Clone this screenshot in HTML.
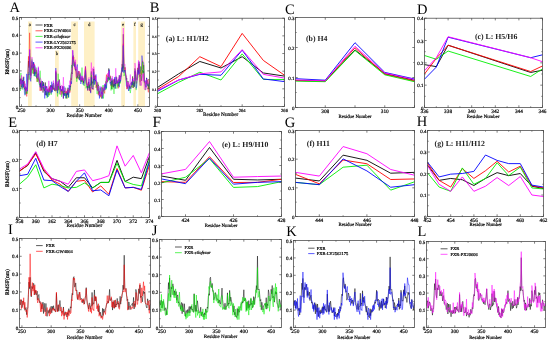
<!DOCTYPE html>
<html><head><meta charset="utf-8"><style>html,body{margin:0;padding:0;background:#fff;width:550px;height:348px;overflow:hidden}svg{display:block}</style></head><body>
<svg width="550" height="348" viewBox="0 0 550 348" font-family="'Liberation Serif', 'Times New Roman', serif" fill="#000" text-rendering="geometricPrecision" stroke-linecap="butt"><style>text{stroke:#000;stroke-width:0.18px;paint-order:stroke}text.n{stroke:none}</style>
<rect width="550" height="348" fill="#fff"/>
<defs>
<clipPath id="cA"><rect x="19.50" y="17.50" width="130.00" height="89.00"/></clipPath>
<clipPath id="cI"><rect x="19.50" y="238.50" width="131.00" height="89.00"/></clipPath>
<clipPath id="cJ"><rect x="159.50" y="239.50" width="122.00" height="88.00"/></clipPath>
<clipPath id="cK"><rect x="293.50" y="240.50" width="121.00" height="87.00"/></clipPath>
<clipPath id="cL"><rect x="426.50" y="241.50" width="119.00" height="86.00"/></clipPath>
</defs>
<rect x="28.0" y="21.5" width="3.80" height="85.00" fill="#fef0c6"/>
<rect x="55.0" y="50.5" width="3.80" height="56.00" fill="#fef0c6"/>
<rect x="71.2" y="21.5" width="6.80" height="85.00" fill="#fef0c6"/>
<rect x="84.0" y="21.5" width="10.60" height="85.00" fill="#fef0c6"/>
<rect x="121.2" y="21.5" width="3.80" height="85.00" fill="#fef0c6"/>
<rect x="133.4" y="21.5" width="2.60" height="85.00" fill="#fef0c6"/>
<rect x="138.2" y="21.5" width="6.80" height="85.00" fill="#fef0c6"/>
<g clip-path="url(#cA)">
<polyline points="17.41,78.90 17.99,81.04 18.57,82.12 19.15,80.85 19.73,83.96 20.31,80.64 20.90,78.79 21.48,86.67 22.06,83.97 22.64,79.85 23.22,81.17 23.81,84.12 24.39,89.29 24.97,87.52 25.55,86.56 26.13,93.71 26.72,87.54 27.30,87.28 27.88,73.57 28.46,61.11 29.04,67.70 29.63,56.30 30.21,72.68 30.79,75.88 31.37,65.45 31.95,67.58 32.53,65.54 33.12,62.30 33.70,65.60 34.28,73.90 34.86,69.37 35.44,73.21 36.03,73.80 36.61,70.15 37.19,78.94 37.77,74.65 38.35,73.52 38.94,81.58 39.52,80.53 40.10,82.87 40.68,83.76 41.26,88.04 41.85,82.80 42.43,81.13 43.01,92.56 43.59,82.21 44.17,88.62 44.76,90.80 45.34,82.44 45.92,90.45 46.50,95.37 47.08,89.51 47.66,89.50 48.25,92.28 48.83,88.38 49.41,91.61 49.99,87.48 50.57,85.26 51.16,91.81 51.74,85.39 52.32,88.01 52.90,84.72 53.48,88.91 54.07,87.95 54.65,90.48 55.23,90.84 55.81,72.32 56.39,86.39 56.98,90.30 57.56,83.79 58.14,90.27 58.72,83.83 59.30,79.48 59.88,84.76 60.47,88.77 61.05,91.52 61.63,90.70 62.21,90.74 62.79,85.97 63.38,94.74 63.96,92.15 64.54,90.78 65.12,93.33 65.70,93.14 66.29,96.03 66.87,91.67 67.45,93.81 68.03,87.68 68.61,90.76 69.20,91.44 69.78,85.75 70.36,87.08 70.94,75.09 71.52,72.32 72.11,73.93 72.69,56.84 73.27,55.63 73.85,65.80 74.43,65.86 75.01,61.93 75.60,69.65 76.18,69.18 76.76,78.55 77.34,76.77 77.92,75.48 78.51,71.21 79.09,73.25 79.67,77.45 80.25,78.40 80.83,77.39 81.42,78.29 82.00,81.86 82.58,78.63 83.16,81.37 83.74,82.95 84.33,77.84 84.91,74.64 85.49,66.63 86.07,78.20 86.65,82.65 87.24,84.25 87.82,87.99 88.40,82.11 88.98,82.11 89.56,88.34 90.14,84.96 90.73,84.96 91.31,71.43 91.89,84.43 92.47,81.76 93.05,82.65 93.64,68.94 94.22,80.09 94.80,75.71 95.38,78.03 95.96,81.96 96.55,84.10 97.13,87.03 97.71,90.84 98.29,84.64 98.87,93.62 99.46,91.08 100.04,95.18 100.62,94.85 101.20,96.46 101.78,87.31 102.36,94.44 102.95,87.94 103.53,91.16 104.11,90.82 104.69,86.96 105.27,86.39 105.86,82.57 106.44,82.73 107.02,80.20 107.60,81.78 108.18,76.80 108.77,68.36 109.35,79.63 109.93,78.52 110.51,77.34 111.09,79.56 111.68,89.08 112.26,80.82 112.84,83.21 113.42,87.23 114.00,79.33 114.59,86.21 115.17,83.11 115.75,83.95 116.33,77.40 116.91,83.24 117.49,81.87 118.08,86.52 118.66,84.34 119.24,75.29 119.82,83.15 120.40,76.45 120.99,76.74 121.57,71.48 122.15,64.14 122.73,68.59 123.31,34.23 123.90,67.52 124.48,68.23 125.06,67.52 125.64,73.20 126.22,79.57 126.81,78.22 127.39,88.55 127.97,80.98 128.55,84.70 129.13,88.66 129.71,84.50 130.30,84.11 130.88,83.69 131.46,82.30 132.04,85.40 132.62,76.38 133.21,87.95 133.79,82.65 134.37,84.43 134.95,68.41 135.53,71.61 136.12,79.62 136.70,79.09 137.28,79.43 137.86,67.91 138.44,72.50 139.03,63.96 139.61,76.60 140.19,74.99 140.77,76.06 141.35,80.87 141.94,74.99 142.52,70.19 143.10,72.68 143.68,70.90 144.26,81.40 144.84,83.36 145.43,86.07 146.01,87.01 146.59,77.81 147.17,80.67 147.75,81.16 148.34,88.69 148.92,84.00 149.50,83.71 150.08,83.79 150.66,81.56 151.25,86.00 151.83,81.22" fill="none" stroke="#000000" stroke-width="0.42" stroke-linejoin="round"/>
<polyline points="17.41,80.96 17.99,73.05 18.57,81.78 19.15,83.75 19.73,80.70 20.31,78.34 20.90,87.70 21.48,85.57 22.06,80.02 22.64,83.75 23.22,76.72 23.81,87.83 24.39,81.24 24.97,87.57 25.55,90.74 26.13,88.82 26.72,96.48 27.30,89.23 27.88,76.24 28.46,56.30 29.04,66.27 29.63,32.81 30.21,60.04 30.79,74.99 31.37,68.84 31.95,61.63 32.53,70.14 33.12,64.52 33.70,73.95 34.28,63.72 34.86,72.32 35.44,69.31 36.03,69.63 36.61,78.51 37.19,81.96 37.77,77.32 38.35,80.10 38.94,79.91 39.52,81.49 40.10,90.95 40.68,81.47 41.26,90.71 41.85,83.16 42.43,87.30 43.01,88.25 43.59,88.14 44.17,90.77 44.76,91.24 45.34,95.05 45.92,89.26 46.50,86.50 47.08,89.31 47.66,91.27 48.25,92.01 48.83,95.13 49.41,86.62 49.99,93.15 50.57,90.26 51.16,90.02 51.74,87.67 52.32,89.19 52.90,86.82 53.48,89.73 54.07,88.89 54.65,90.48 55.23,90.84 55.81,71.08 56.39,86.74 56.98,90.84 57.56,84.86 58.14,83.89 58.72,83.50 59.30,88.78 59.88,90.12 60.47,86.03 61.05,95.18 61.63,90.29 62.21,93.59 62.79,87.13 63.38,98.49 63.96,92.61 64.54,94.37 65.12,91.18 65.70,93.20 66.29,90.96 66.87,98.49 67.45,89.49 68.03,95.15 68.61,94.19 69.20,89.36 69.78,92.75 70.36,91.60 70.94,78.45 71.52,79.80 72.11,67.34 72.69,56.84 73.27,58.87 73.85,57.27 74.43,66.19 75.01,69.57 75.60,68.96 76.18,74.08 76.76,77.84 77.34,73.39 77.92,78.70 78.51,79.21 79.09,71.08 79.67,78.95 80.25,78.21 80.83,81.39 81.42,78.57 82.00,80.19 82.58,77.54 83.16,83.40 83.74,80.53 84.33,78.20 84.91,74.28 85.49,67.52 86.07,77.31 86.65,83.54 87.24,86.03 87.82,90.48 88.40,84.25 88.98,83.72 89.56,90.84 90.14,87.10 90.73,92.26 91.31,76.42 91.89,88.34 92.47,87.99 93.05,89.77 93.64,74.28 94.22,75.81 94.80,79.99 95.38,75.67 95.96,87.77 96.55,84.82 97.13,90.25 97.71,82.73 98.29,95.26 98.87,91.81 99.46,92.52 100.04,97.20 100.62,97.03 101.20,95.01 101.78,98.49 102.36,95.20 102.95,91.78 103.53,90.30 104.11,90.89 104.69,93.46 105.27,85.55 105.86,81.74 106.44,74.60 107.02,82.22 107.60,82.02 108.18,74.55 108.77,78.50 109.35,79.52 109.93,78.50 110.51,75.75 111.09,86.09 111.68,80.98 112.26,86.63 112.84,79.51 113.42,87.29 114.00,85.03 114.59,78.83 115.17,85.85 115.75,85.57 116.33,80.80 116.91,81.31 117.49,80.38 118.08,87.91 118.66,88.20 119.24,80.89 119.82,80.80 120.40,79.13 120.99,73.83 121.57,72.45 122.15,70.01 122.73,70.72 123.31,43.84 123.90,70.90 124.48,70.72 125.06,67.52 125.64,74.96 126.22,76.03 126.81,89.13 127.39,85.64 127.97,85.61 128.55,86.13 129.13,85.46 129.71,86.23 130.30,88.42 130.88,85.82 131.46,85.94 132.04,87.47 132.62,81.51 133.21,80.85 133.79,80.33 134.37,86.21 134.95,71.43 135.53,73.75 136.12,83.54 136.70,83.18 137.28,72.43 137.86,68.65 138.44,66.77 139.03,62.36 139.61,76.60 140.19,82.11 140.77,66.81 141.35,74.99 141.94,68.59 142.52,60.75 143.10,69.65 143.68,64.85 144.26,81.05 144.84,82.83 145.43,83.03 146.01,82.93 146.59,83.90 147.17,79.80 147.75,86.14 148.34,92.31 148.92,79.15 149.50,82.11 150.08,84.40 150.66,84.78 151.25,81.74 151.83,87.58" fill="none" stroke="#ff0000" stroke-width="0.42" stroke-linejoin="round"/>
<polyline points="17.41,80.64 17.99,82.82 18.57,85.65 19.15,79.35 19.73,86.73 20.31,90.97 20.90,72.91 21.48,87.21 22.06,80.37 22.64,89.54 23.22,78.03 23.81,83.28 24.39,85.92 24.97,93.02 25.55,94.45 26.13,89.74 26.72,89.71 27.30,93.68 27.88,82.11 28.46,71.97 29.04,79.80 29.63,53.46 30.21,79.27 30.79,79.27 31.37,68.71 31.95,58.64 32.53,73.48 33.12,64.98 33.70,64.93 34.28,76.25 34.86,71.30 35.44,76.65 36.03,67.40 36.61,71.82 37.19,81.69 37.77,76.08 38.35,81.40 38.94,83.01 39.52,85.30 40.10,70.69 40.68,80.77 41.26,88.14 41.85,89.66 42.43,84.17 43.01,90.14 43.59,86.18 44.17,90.16 44.76,90.39 45.34,90.05 45.92,94.75 46.50,93.27 47.08,98.16 47.66,92.28 48.25,96.76 48.83,91.34 49.41,95.32 49.99,90.12 50.57,89.60 51.16,94.86 51.74,89.58 52.32,90.21 52.90,84.33 53.48,83.13 54.07,89.69 54.65,90.84 55.23,91.19 55.81,72.68 56.39,87.10 56.98,91.19 57.56,96.49 58.14,73.69 58.72,86.11 59.30,94.33 59.88,88.92 60.47,92.16 61.05,91.12 61.63,96.80 62.21,92.66 62.79,90.72 63.38,93.47 63.96,90.63 64.54,95.79 65.12,87.62 65.70,98.49 66.29,93.30 66.87,98.49 67.45,95.80 68.03,88.22 68.61,97.95 69.20,89.73 69.78,90.86 70.36,90.35 70.94,80.50 71.52,65.03 72.11,68.05 72.69,61.47 73.27,59.63 73.85,64.99 74.43,66.09 75.01,63.83 75.60,70.16 76.18,69.79 76.76,81.76 77.34,75.71 77.92,71.43 78.51,75.29 79.09,78.95 79.67,79.95 80.25,73.25 80.83,81.77 81.42,81.80 82.00,67.57 82.58,84.16 83.16,83.77 83.74,85.26 84.33,86.03 84.91,81.76 85.49,74.10 86.07,88.34 86.65,86.03 87.24,86.92 87.82,88.34 88.40,87.99 88.98,85.32 89.56,88.34 90.14,84.96 90.73,84.96 91.31,73.21 91.89,84.43 92.47,86.21 93.05,87.10 93.64,71.08 94.22,78.28 94.80,84.69 95.38,82.41 95.96,81.28 96.55,84.30 97.13,94.08 97.71,82.13 98.29,90.61 98.87,91.98 99.46,95.92 100.04,87.88 100.62,94.35 101.20,95.07 101.78,98.49 102.36,89.75 102.95,85.20 103.53,98.49 104.11,85.17 104.69,89.30 105.27,88.14 105.86,81.08 106.44,89.30 107.02,79.78 107.60,75.84 108.18,81.03 108.77,77.62 109.35,76.54 109.93,79.92 110.51,76.51 111.09,90.48 111.68,80.92 112.26,89.42 112.84,79.88 113.42,86.17 114.00,93.98 114.59,83.68 115.17,88.81 115.75,83.60 116.33,76.53 116.91,88.75 117.49,86.04 118.08,79.53 118.66,85.97 119.24,78.49 119.82,83.09 120.40,83.35 120.99,77.35 121.57,68.41 122.15,71.26 122.73,65.38 123.31,45.98 123.90,76.06 124.48,75.17 125.06,70.01 125.64,78.48 126.22,85.47 126.81,84.51 127.39,84.35 127.97,86.89 128.55,89.79 129.13,90.94 129.71,87.45 130.30,93.11 130.88,88.98 131.46,81.78 132.04,87.51 132.62,81.88 133.21,80.98 133.79,85.32 134.37,86.74 134.95,75.88 135.53,74.64 136.12,90.12 136.70,84.96 137.28,77.78 137.86,78.05 138.44,69.03 139.03,70.37 139.61,82.11 140.19,85.67 140.77,66.27 141.35,79.80 141.94,74.99 142.52,62.00 143.10,72.68 143.68,65.56 144.26,82.83 144.84,83.72 145.43,90.16 146.01,84.49 146.59,79.34 147.17,85.92 147.75,85.23 148.34,83.22 148.92,88.19 149.50,84.10 150.08,71.39 150.66,82.54 151.25,93.82 151.83,84.99" fill="none" stroke="#00ee00" stroke-width="0.42" stroke-linejoin="round"/>
<polyline points="17.41,83.70 17.99,75.96 18.57,76.88 19.15,86.76 19.73,82.10 20.31,79.47 20.90,84.07 21.48,78.66 22.06,88.11 22.64,80.65 23.22,86.99 23.81,76.80 24.39,92.28 24.97,95.28 25.55,86.96 26.13,89.84 26.72,73.89 27.30,91.19 27.88,79.80 28.46,74.10 29.04,74.99 29.63,49.72 30.21,78.73 30.79,81.40 31.37,67.16 31.95,60.47 32.53,68.25 33.12,66.59 33.70,61.98 34.28,75.86 34.86,65.47 35.44,70.50 36.03,75.15 36.61,77.54 37.19,75.59 37.77,74.80 38.35,67.63 38.94,79.65 39.52,79.27 40.10,87.29 40.68,83.23 41.26,90.21 41.85,81.14 42.43,86.61 43.01,88.39 43.59,83.73 44.17,88.19 44.76,98.49 45.34,86.30 45.92,95.38 46.50,86.38 47.08,86.18 47.66,97.00 48.25,90.88 48.83,92.45 49.41,89.97 49.99,89.01 50.57,86.57 51.16,93.44 51.74,81.71 52.32,92.18 52.90,84.52 53.48,82.90 54.07,88.12 54.65,89.41 55.23,90.30 55.81,68.05 56.39,85.67 56.98,89.59 57.56,93.19 58.14,81.08 58.72,84.82 59.30,86.95 59.88,88.94 60.47,86.08 61.05,91.07 61.63,89.00 62.21,90.83 62.79,87.16 63.38,98.49 63.96,86.24 64.54,95.69 65.12,93.87 65.70,96.15 66.29,98.15 66.87,92.65 67.45,94.93 68.03,90.27 68.61,97.17 69.20,85.03 69.78,89.83 70.36,87.15 70.94,81.43 71.52,83.89 72.11,74.28 72.69,50.43 73.27,58.57 73.85,61.65 74.43,66.93 75.01,63.55 75.60,70.57 76.18,70.09 76.76,66.81 77.34,64.49 77.92,77.42 78.51,78.06 79.09,77.42 79.67,80.31 80.25,74.42 80.83,83.99 81.42,78.57 82.00,76.50 82.58,79.57 83.16,78.35 83.74,84.58 84.33,80.87 84.91,79.98 85.49,70.19 86.07,83.54 86.65,83.89 87.24,87.45 87.82,90.48 88.40,84.25 88.98,79.09 89.56,90.12 90.14,89.59 90.73,93.15 91.31,77.31 91.89,88.34 92.47,87.99 93.05,89.23 93.64,71.97 94.22,84.55 94.80,78.72 95.38,81.10 95.96,74.44 96.55,83.01 97.13,85.36 97.71,89.73 98.29,89.13 98.87,89.84 99.46,98.49 100.04,86.50 100.62,90.05 101.20,94.47 101.78,92.01 102.36,98.49 102.95,90.40 103.53,88.87 104.11,90.26 104.69,84.08 105.27,89.78 105.86,83.55 106.44,88.07 107.02,78.57 107.60,78.42 108.18,79.39 108.77,76.57 109.35,69.55 109.93,83.36 110.51,82.22 111.09,85.27 111.68,78.93 112.26,78.34 112.84,84.33 113.42,86.28 114.00,85.16 114.59,77.19 115.17,88.46 115.75,76.83 116.33,78.38 116.91,83.59 117.49,81.20 118.08,82.86 118.66,79.38 119.24,87.17 119.82,75.68 120.40,81.65 120.99,78.94 121.57,69.72 122.15,67.16 122.73,72.15 123.31,45.27 123.90,72.68 124.48,70.72 125.06,70.01 125.64,75.25 126.22,77.99 126.81,86.54 127.39,85.56 127.97,85.66 128.55,90.87 129.13,89.33 129.71,85.57 130.30,87.72 130.88,88.81 131.46,82.23 132.04,84.98 132.62,79.02 133.21,84.41 133.79,85.32 134.37,86.74 134.95,70.72 135.53,78.20 136.12,88.34 136.70,86.74 137.28,75.51 137.86,69.81 138.44,74.59 139.03,61.47 139.61,73.75 140.19,71.43 140.77,70.90 141.35,69.12 141.94,55.59 142.52,60.04 143.10,62.71 143.68,62.71 144.26,80.51 144.84,82.11 145.43,80.62 146.01,87.48 146.59,78.02 147.17,82.87 147.75,85.49 148.34,86.06 148.92,86.06 149.50,80.85 150.08,83.09 150.66,84.38 151.25,85.98 151.83,94.57" fill="none" stroke="#0000ff" stroke-width="0.42" stroke-linejoin="round"/>
<polyline points="17.41,77.40 17.99,73.27 18.57,83.52 19.15,75.35 19.73,78.11 20.31,78.63 20.90,86.41 21.48,75.25 22.06,84.27 22.64,82.21 23.22,81.04 23.81,80.93 24.39,86.10 24.97,88.41 25.55,83.68 26.13,91.74 26.72,89.27 27.30,90.12 27.88,79.80 28.46,73.57 29.04,71.61 29.63,49.18 30.21,74.10 30.79,77.84 31.37,69.96 31.95,56.97 32.53,67.59 33.12,66.43 33.70,65.11 34.28,63.85 34.86,72.07 35.44,71.56 36.03,68.18 36.61,71.76 37.19,72.52 37.77,78.49 38.35,66.64 38.94,74.53 39.52,83.49 40.10,77.82 40.68,79.39 41.26,79.76 41.85,89.42 42.43,90.54 43.01,85.99 43.59,87.12 44.17,85.96 44.76,85.76 45.34,89.76 45.92,91.06 46.50,88.39 47.08,90.13 47.66,89.09 48.25,91.91 48.83,80.83 49.41,90.77 49.99,92.34 50.57,89.69 51.16,86.89 51.74,90.41 52.32,85.41 52.90,86.08 53.48,80.57 54.07,89.41 54.65,90.12 55.23,90.66 55.81,70.19 56.39,86.03 56.98,89.95 57.56,82.22 58.14,85.92 58.72,80.19 59.30,86.69 59.88,88.17 60.47,94.33 61.05,89.87 61.63,85.14 62.21,86.37 62.79,91.31 63.38,77.15 63.96,93.20 64.54,91.94 65.12,93.09 65.70,87.96 66.29,92.33 66.87,93.44 67.45,92.27 68.03,88.79 68.61,90.04 69.20,92.55 69.78,80.59 70.36,85.81 70.94,78.16 71.52,77.13 72.11,66.81 72.69,50.07 73.27,55.81 73.85,63.30 74.43,61.59 75.01,68.86 75.60,59.68 76.18,77.42 76.76,66.81 77.34,70.01 77.92,75.67 78.51,71.05 79.09,72.49 79.67,73.85 80.25,72.59 80.83,80.21 81.42,75.80 82.00,80.08 82.58,75.83 83.16,81.03 83.74,80.18 84.33,76.77 84.91,73.75 85.49,66.09 86.07,76.42 86.65,82.65 87.24,84.25 87.82,86.03 88.40,78.20 88.98,77.31 89.56,83.89 90.14,82.65 90.73,80.87 91.31,62.53 91.89,74.99 92.47,68.41 93.05,79.09 93.64,66.63 94.22,69.21 94.80,78.01 95.38,80.06 95.96,76.22 96.55,84.67 97.13,81.61 97.71,91.17 98.29,87.33 98.87,85.95 99.46,95.34 100.04,91.44 100.62,92.09 101.20,96.80 101.78,86.59 102.36,91.91 102.95,95.23 103.53,87.07 104.11,90.09 104.69,86.96 105.27,83.12 105.86,84.72 106.44,76.80 107.02,82.36 107.60,73.20 108.18,76.82 108.77,70.92 109.35,77.26 109.93,76.14 110.51,81.71 111.09,79.15 111.68,79.83 112.26,76.15 112.84,79.67 113.42,82.88 114.00,84.04 114.59,82.79 115.17,83.08 115.75,68.24 116.33,78.05 116.91,83.91 117.49,82.22 118.08,77.40 118.66,82.21 119.24,81.22 119.82,75.00 120.40,79.92 120.99,75.67 121.57,70.31 122.15,61.82 122.73,57.19 123.31,28.00 123.90,65.38 124.48,64.67 125.06,64.14 125.64,73.97 126.22,78.77 126.81,86.68 127.39,82.23 127.97,89.19 128.55,82.50 129.13,85.34 129.71,85.99 130.30,74.49 130.88,85.44 131.46,81.98 132.04,82.26 132.62,81.47 133.21,78.04 133.79,79.09 134.37,81.40 134.95,63.07 135.53,67.52 136.12,77.31 136.70,80.87 137.28,79.39 137.86,73.64 138.44,60.31 139.03,64.31 139.61,79.80 140.19,85.67 140.77,73.75 141.35,85.67 141.94,81.40 142.52,74.28 143.10,80.87 143.68,73.39 144.26,88.70 144.84,89.95 145.43,81.04 146.01,89.65 146.59,78.74 147.17,81.01 147.75,84.18 148.34,84.23 148.92,82.10 149.50,81.33 150.08,85.62 150.66,75.66 151.25,75.71 151.83,88.41" fill="none" stroke="#ff00ff" stroke-width="0.42" stroke-linejoin="round"/>
</g>
<text x="29.90" y="25.7" font-size="4.8" text-anchor="middle" fill="#333">a</text>
<text x="56.90" y="55.0" font-size="4.8" text-anchor="middle" fill="#333">b</text>
<text x="74.60" y="25.7" font-size="4.8" text-anchor="middle" fill="#333">c</text>
<text x="89.30" y="25.7" font-size="4.8" text-anchor="middle" fill="#333">d</text>
<text x="123.10" y="25.7" font-size="4.8" text-anchor="middle" fill="#333">e</text>
<text x="134.70" y="25.7" font-size="4.8" text-anchor="middle" fill="#333">f</text>
<text x="141.60" y="25.7" font-size="4.8" text-anchor="middle" fill="#333">g</text>
<line x1="35.5" y1="25.00" x2="42.6" y2="25.00" stroke="#000000" stroke-width="0.65"/>
<text x="44.1" y="26.62" font-size="4.5">FXR</text>
<line x1="35.5" y1="30.80" x2="42.6" y2="30.80" stroke="#ff0000" stroke-width="0.65"/>
<text x="44.1" y="32.42" font-size="4.5">FXR-GW4064</text>
<line x1="35.5" y1="36.40" x2="42.6" y2="36.40" stroke="#00ee00" stroke-width="0.65"/>
<text x="44.1" y="38.02" font-size="4.5">FXR-<tspan font-style="italic">cilofexor</tspan></text>
<line x1="35.5" y1="42.10" x2="42.6" y2="42.10" stroke="#0000ff" stroke-width="0.65"/>
<text x="44.1" y="43.72" font-size="4.5">FXR-LY2562175</text>
<line x1="35.5" y1="47.80" x2="42.6" y2="47.80" stroke="#ff00ff" stroke-width="0.65"/>
<text x="44.1" y="49.42" font-size="4.5">FXR-PX20606</text>
<rect x="19.50" y="17.50" width="130.00" height="89.00" fill="none" stroke="#444" stroke-width="0.75"/>
<path d="M21.48 106.50v-2.2M21.48 17.50v2.2M50.57 106.50v-2.2M50.57 17.50v2.2M79.67 106.50v-2.2M79.67 17.50v2.2M108.77 106.50v-2.2M108.77 17.50v2.2M137.86 106.50v-2.2M137.86 17.50v2.2M36.03 106.50v-1.2M36.03 17.50v1.2M65.12 106.50v-1.2M65.12 17.50v1.2M94.22 106.50v-1.2M94.22 17.50v1.2M123.31 106.50v-1.2M123.31 17.50v1.2M19.50 106.50h2.2M149.50 106.50h-2.2M19.50 88.70h2.2M149.50 88.70h-2.2M19.50 70.90h2.2M149.50 70.90h-2.2M19.50 53.10h2.2M149.50 53.10h-2.2M19.50 35.30h2.2M149.50 35.30h-2.2M19.50 17.50h2.2M149.50 17.50h-2.2M19.50 97.60h1.2M149.50 97.60h-1.2M19.50 79.80h1.2M149.50 79.80h-1.2M19.50 62.00h1.2M149.50 62.00h-1.2M19.50 44.20h1.2M149.50 44.20h-1.2M19.50 26.40h1.2M149.50 26.40h-1.2" stroke="#444" stroke-width="0.68" fill="none"/>
<text x="21.48" y="111.80" font-size="5.3" text-anchor="middle">250</text>
<text x="50.57" y="111.80" font-size="5.3" text-anchor="middle">300</text>
<text x="79.67" y="111.80" font-size="5.3" text-anchor="middle">350</text>
<text x="108.77" y="111.80" font-size="5.3" text-anchor="middle">400</text>
<text x="137.86" y="111.80" font-size="5.3" text-anchor="middle">450</text>
<text x="18.30" y="108.50" font-size="5.0" text-anchor="end">0</text>
<text x="18.30" y="90.70" font-size="5.0" text-anchor="end">0.1</text>
<text x="18.30" y="72.90" font-size="5.0" text-anchor="end">0.2</text>
<text x="18.30" y="55.10" font-size="5.0" text-anchor="end">0.3</text>
<text x="18.30" y="37.30" font-size="5.0" text-anchor="end">0.4</text>
<text x="18.30" y="19.50" font-size="5.0" text-anchor="end">0.5</text>
<text transform="translate(9.2 61.7) rotate(-90)" font-size="5.6" text-anchor="middle">RMSF(nm)</text>
<polyline points="157.50,87.43 178.67,73.83 199.83,61.47 221.00,68.00 242.17,56.70 263.33,72.95 284.50,76.12" fill="none" stroke="#000000" stroke-width="0.9" stroke-linejoin="round"/>
<polyline points="157.50,89.37 178.67,76.48 199.83,56.70 221.00,66.59 242.17,33.39 263.33,60.41 284.50,75.24" fill="none" stroke="#ff0000" stroke-width="0.9" stroke-linejoin="round"/>
<polyline points="157.50,93.78 178.67,82.31 199.83,72.24 221.00,80.01 242.17,53.87 263.33,79.48 284.50,79.48" fill="none" stroke="#00ee00" stroke-width="0.9" stroke-linejoin="round"/>
<polyline points="157.50,91.31 178.67,80.01 199.83,74.36 221.00,75.24 242.17,50.16 263.33,78.95 284.50,81.60" fill="none" stroke="#0000ff" stroke-width="0.9" stroke-linejoin="round"/>
<polyline points="157.50,90.25 178.67,80.01 199.83,73.83 221.00,71.89 242.17,49.63 263.33,74.36 284.50,78.07" fill="none" stroke="#ff00ff" stroke-width="0.9" stroke-linejoin="round"/>
<rect x="157.50" y="18.20" width="127.00" height="88.30" fill="none" stroke="#444" stroke-width="0.75"/>
<path d="M157.50 106.50v-2.2M157.50 18.20v2.2M199.83 106.50v-2.2M199.83 18.20v2.2M242.17 106.50v-2.2M242.17 18.20v2.2M284.50 106.50v-2.2M284.50 18.20v2.2M178.67 106.50v-1.2M178.67 18.20v1.2M221.00 106.50v-1.2M221.00 18.20v1.2M263.33 106.50v-1.2M263.33 18.20v1.2M157.50 106.50h2.2M284.50 106.50h-2.2M157.50 88.84h2.2M284.50 88.84h-2.2M157.50 71.18h2.2M284.50 71.18h-2.2M157.50 53.52h2.2M284.50 53.52h-2.2M157.50 35.86h2.2M284.50 35.86h-2.2M157.50 18.20h2.2M284.50 18.20h-2.2M157.50 97.67h1.2M284.50 97.67h-1.2M157.50 80.01h1.2M284.50 80.01h-1.2M157.50 62.35h1.2M284.50 62.35h-1.2M157.50 44.69h1.2M284.50 44.69h-1.2M157.50 27.03h1.2M284.50 27.03h-1.2" stroke="#444" stroke-width="0.68" fill="none"/>
<text x="157.50" y="111.50" font-size="4.6" text-anchor="middle">260</text>
<text x="199.83" y="111.50" font-size="4.6" text-anchor="middle">262</text>
<text x="242.17" y="111.50" font-size="4.6" text-anchor="middle">264</text>
<text x="284.50" y="111.50" font-size="4.6" text-anchor="middle">266</text>
<text x="156.60" y="108.16" font-size="3.6" text-anchor="end">0</text>
<text x="156.60" y="90.50" font-size="3.6" text-anchor="end">0.1</text>
<text x="156.60" y="72.84" font-size="3.6" text-anchor="end">0.2</text>
<text x="156.60" y="55.18" font-size="3.6" text-anchor="end">0.3</text>
<text x="156.60" y="37.52" font-size="3.6" text-anchor="end">0.4</text>
<text x="156.60" y="19.86" font-size="3.6" text-anchor="end">0.5</text>
<text class="n" x="165.8" y="41.30" font-size="7.8" font-weight="bold" fill="#222">(a) L: H1/H2</text>
<polyline points="295.50,80.50 325.25,81.10 355.00,49.90 384.75,73.60 414.50,80.20" fill="none" stroke="#000000" stroke-width="0.9" stroke-linejoin="round"/>
<polyline points="295.50,80.50 325.25,81.10 355.00,47.80 384.75,74.20 414.50,81.10" fill="none" stroke="#ff0000" stroke-width="0.9" stroke-linejoin="round"/>
<polyline points="295.50,81.10 325.25,81.70 355.00,50.50 384.75,74.80 414.50,81.70" fill="none" stroke="#00ee00" stroke-width="0.9" stroke-linejoin="round"/>
<polyline points="295.50,78.70 325.25,80.20 355.00,42.70 384.75,72.40 414.50,79.00" fill="none" stroke="#0000ff" stroke-width="0.9" stroke-linejoin="round"/>
<polyline points="295.50,79.90 325.25,80.80 355.00,46.30 384.75,73.00 414.50,79.60" fill="none" stroke="#ff00ff" stroke-width="0.9" stroke-linejoin="round"/>
<rect x="295.50" y="17.50" width="119.00" height="90.00" fill="none" stroke="#444" stroke-width="0.75"/>
<path d="M295.50 107.50v-2.2M295.50 17.50v2.2M325.25 107.50v-2.2M325.25 17.50v2.2M355.00 107.50v-2.2M355.00 17.50v2.2M384.75 107.50v-2.2M384.75 17.50v2.2M414.50 107.50v-2.2M414.50 17.50v2.2M295.50 107.50h2.2M414.50 107.50h-2.2M295.50 77.50h2.2M414.50 77.50h-2.2M295.50 47.50h2.2M414.50 47.50h-2.2M295.50 17.50h2.2M414.50 17.50h-2.2M295.50 92.50h1.2M414.50 92.50h-1.2M295.50 62.50h1.2M414.50 62.50h-1.2M295.50 32.50h1.2M414.50 32.50h-1.2" stroke="#444" stroke-width="0.68" fill="none"/>
<text x="325.25" y="112.50" font-size="5.3" text-anchor="middle">308</text>
<text x="384.75" y="112.50" font-size="5.3" text-anchor="middle">310</text>
<text x="294.40" y="109.75" font-size="4.9" text-anchor="end">0</text>
<text x="294.40" y="79.75" font-size="4.9" text-anchor="end">0.1</text>
<text x="294.40" y="49.75" font-size="4.9" text-anchor="end">0.2</text>
<text x="294.40" y="19.75" font-size="4.9" text-anchor="end">0.3</text>
<text class="n" x="306.0" y="40.80" font-size="7.8" font-weight="bold" fill="#222">(b) H4</text>
<polyline points="424.50,64.64 436.30,66.65 448.10,45.21 530.70,72.45 542.50,70.22" fill="none" stroke="#000000" stroke-width="0.9" stroke-linejoin="round"/>
<polyline points="424.50,74.01 436.30,58.39 448.10,45.21 530.70,71.56 542.50,65.98" fill="none" stroke="#ff0000" stroke-width="0.9" stroke-linejoin="round"/>
<polyline points="424.50,55.48 436.30,59.28 448.10,51.02 530.70,76.47 542.50,68.88" fill="none" stroke="#00ee00" stroke-width="0.9" stroke-linejoin="round"/>
<polyline points="424.50,79.15 436.30,67.09 448.10,37.18 530.70,57.72 542.50,54.81" fill="none" stroke="#0000ff" stroke-width="0.9" stroke-linejoin="round"/>
<polyline points="424.50,70.66 436.30,57.72 448.10,36.73 530.70,57.72 542.50,61.73" fill="none" stroke="#ff00ff" stroke-width="0.9" stroke-linejoin="round"/>
<rect x="424.50" y="18.20" width="118.00" height="89.30" fill="none" stroke="#444" stroke-width="0.75"/>
<path d="M424.50 107.50v-2.2M424.50 18.20v2.2M448.10 107.50v-2.2M448.10 18.20v2.2M471.70 107.50v-2.2M471.70 18.20v2.2M495.30 107.50v-2.2M495.30 18.20v2.2M518.90 107.50v-2.2M518.90 18.20v2.2M542.50 107.50v-2.2M542.50 18.20v2.2M436.30 107.50v-1.2M436.30 18.20v1.2M459.90 107.50v-1.2M459.90 18.20v1.2M483.50 107.50v-1.2M483.50 18.20v1.2M507.10 107.50v-1.2M507.10 18.20v1.2M530.70 107.50v-1.2M530.70 18.20v1.2M424.50 107.50h2.2M542.50 107.50h-2.2M424.50 85.17h2.2M542.50 85.17h-2.2M424.50 62.85h2.2M542.50 62.85h-2.2M424.50 40.53h2.2M542.50 40.53h-2.2M424.50 18.20h2.2M542.50 18.20h-2.2M424.50 96.34h1.2M542.50 96.34h-1.2M424.50 74.01h1.2M542.50 74.01h-1.2M424.50 51.69h1.2M542.50 51.69h-1.2M424.50 29.36h1.2M542.50 29.36h-1.2" stroke="#444" stroke-width="0.68" fill="none"/>
<text x="424.50" y="112.50" font-size="5.3" text-anchor="middle">336</text>
<text x="448.10" y="112.50" font-size="5.3" text-anchor="middle">338</text>
<text x="471.70" y="112.50" font-size="5.3" text-anchor="middle">340</text>
<text x="495.30" y="112.50" font-size="5.3" text-anchor="middle">342</text>
<text x="518.90" y="112.50" font-size="5.3" text-anchor="middle">344</text>
<text x="542.50" y="112.50" font-size="5.3" text-anchor="middle">346</text>
<text x="423.40" y="109.75" font-size="4.9" text-anchor="end">0</text>
<text x="423.40" y="87.43" font-size="4.9" text-anchor="end">0.1</text>
<text x="423.40" y="65.10" font-size="4.9" text-anchor="end">0.2</text>
<text x="423.40" y="42.78" font-size="4.9" text-anchor="end">0.3</text>
<text x="423.40" y="20.45" font-size="4.9" text-anchor="end">0.4</text>
<text class="n" x="474.9" y="38.70" font-size="7.8" font-weight="bold" fill="#222">(c) L: H5/H6</text>
<polyline points="19.50,170.81 27.62,165.59 35.75,152.54 43.88,171.39 52.00,178.64 60.12,181.25 68.25,187.34 76.38,177.77 84.50,177.77 92.62,187.92 100.75,182.41 108.88,182.41 117.00,160.37 125.12,181.54 133.25,177.19 141.38,178.64 149.50,156.31" fill="none" stroke="#000000" stroke-width="0.9" stroke-linejoin="round"/>
<polyline points="19.50,171.39 27.62,165.01 35.75,153.99 43.88,169.94 52.00,180.09 60.12,184.15 68.25,191.40 76.38,181.25 84.50,180.38 92.62,191.98 100.75,185.89 108.88,194.30 117.00,168.49 125.12,187.92 133.25,187.34 141.38,190.24 149.50,165.01" fill="none" stroke="#ff0000" stroke-width="0.9" stroke-linejoin="round"/>
<polyline points="19.50,184.15 27.62,177.19 35.75,164.72 43.88,187.92 52.00,184.15 60.12,185.60 68.25,187.92 76.38,187.34 84.50,182.99 92.62,187.92 100.75,182.41 108.88,182.41 117.00,163.27 125.12,181.54 133.25,184.44 141.38,185.89 149.50,159.79" fill="none" stroke="#00ee00" stroke-width="0.9" stroke-linejoin="round"/>
<polyline points="19.50,175.74 27.62,174.29 35.75,158.34 43.88,180.09 52.00,180.67 60.12,186.47 68.25,191.40 76.38,181.25 84.50,172.84 92.62,190.82 100.75,189.95 108.88,195.75 117.00,169.94 125.12,187.92 133.25,187.34 141.38,189.37 149.50,161.24" fill="none" stroke="#0000ff" stroke-width="0.9" stroke-linejoin="round"/>
<polyline points="19.50,169.07 27.62,164.14 35.75,151.67 43.88,168.49 52.00,178.64 60.12,181.25 68.25,184.15 76.38,171.39 84.50,169.94 92.62,180.67 100.75,178.64 108.88,175.74 117.00,145.87 125.12,166.17 133.25,155.44 141.38,172.84 149.50,152.54" fill="none" stroke="#ff00ff" stroke-width="0.9" stroke-linejoin="round"/>
<rect x="19.50" y="130.50" width="130.00" height="87.00" fill="none" stroke="#444" stroke-width="0.75"/>
<path d="M19.50 217.50v-2.2M19.50 130.50v2.2M35.75 217.50v-2.2M35.75 130.50v2.2M52.00 217.50v-2.2M52.00 130.50v2.2M68.25 217.50v-2.2M68.25 130.50v2.2M84.50 217.50v-2.2M84.50 130.50v2.2M100.75 217.50v-2.2M100.75 130.50v2.2M117.00 217.50v-2.2M117.00 130.50v2.2M133.25 217.50v-2.2M133.25 130.50v2.2M149.50 217.50v-2.2M149.50 130.50v2.2M27.62 217.50v-1.2M27.62 130.50v1.2M43.88 217.50v-1.2M43.88 130.50v1.2M60.12 217.50v-1.2M60.12 130.50v1.2M76.38 217.50v-1.2M76.38 130.50v1.2M92.62 217.50v-1.2M92.62 130.50v1.2M108.88 217.50v-1.2M108.88 130.50v1.2M125.12 217.50v-1.2M125.12 130.50v1.2M141.38 217.50v-1.2M141.38 130.50v1.2M19.50 217.50h2.2M149.50 217.50h-2.2M19.50 188.50h2.2M149.50 188.50h-2.2M19.50 159.50h2.2M149.50 159.50h-2.2M19.50 130.50h2.2M149.50 130.50h-2.2M19.50 203.00h1.2M149.50 203.00h-1.2M19.50 174.00h1.2M149.50 174.00h-1.2M19.50 145.00h1.2M149.50 145.00h-1.2" stroke="#444" stroke-width="0.68" fill="none"/>
<text x="19.50" y="222.50" font-size="5.3" text-anchor="middle">358</text>
<text x="35.75" y="222.50" font-size="5.3" text-anchor="middle">360</text>
<text x="52.00" y="222.50" font-size="5.3" text-anchor="middle">362</text>
<text x="68.25" y="222.50" font-size="5.3" text-anchor="middle">364</text>
<text x="84.50" y="222.50" font-size="5.3" text-anchor="middle">366</text>
<text x="100.75" y="222.50" font-size="5.3" text-anchor="middle">368</text>
<text x="117.00" y="222.50" font-size="5.3" text-anchor="middle">370</text>
<text x="133.25" y="222.50" font-size="5.3" text-anchor="middle">372</text>
<text x="149.50" y="222.50" font-size="5.3" text-anchor="middle">374</text>
<text x="18.40" y="219.75" font-size="4.9" text-anchor="end">0</text>
<text x="18.40" y="190.75" font-size="4.9" text-anchor="end">0.1</text>
<text x="18.40" y="161.75" font-size="4.9" text-anchor="end">0.2</text>
<text x="18.40" y="132.75" font-size="4.9" text-anchor="end">0.3</text>
<text class="n" x="36.2" y="145.50" font-size="7.8" font-weight="bold" fill="#222">(d) H7</text>
<polyline points="161.50,176.04 185.50,180.29 209.50,147.48 233.50,179.27 257.50,179.95 281.50,179.27" fill="none" stroke="#000000" stroke-width="0.9" stroke-linejoin="round"/>
<polyline points="161.50,181.65 185.50,182.33 209.50,156.66 233.50,182.50 257.50,182.33 281.50,179.27" fill="none" stroke="#ff0000" stroke-width="0.9" stroke-linejoin="round"/>
<polyline points="161.50,182.84 185.50,177.23 209.50,158.70 233.50,187.43 257.50,186.58 281.50,181.65" fill="none" stroke="#00ee00" stroke-width="0.9" stroke-linejoin="round"/>
<polyline points="161.50,178.93 185.50,183.69 209.50,158.02 233.50,184.20 257.50,182.33 281.50,181.65" fill="none" stroke="#0000ff" stroke-width="0.9" stroke-linejoin="round"/>
<polyline points="161.50,173.83 185.50,169.41 209.50,141.53 233.50,177.23 257.50,176.55 281.50,176.04" fill="none" stroke="#ff00ff" stroke-width="0.9" stroke-linejoin="round"/>
<rect x="161.50" y="131.50" width="120.00" height="85.00" fill="none" stroke="#444" stroke-width="0.75"/>
<path d="M185.50 216.50v-2.2M185.50 131.50v2.2M233.50 216.50v-2.2M233.50 131.50v2.2M281.50 216.50v-2.2M281.50 131.50v2.2M161.50 216.50v-1.2M161.50 131.50v1.2M209.50 216.50v-1.2M209.50 131.50v1.2M257.50 216.50v-1.2M257.50 131.50v1.2M161.50 216.50h2.2M281.50 216.50h-2.2M161.50 199.50h2.2M281.50 199.50h-2.2M161.50 182.50h2.2M281.50 182.50h-2.2M161.50 165.50h2.2M281.50 165.50h-2.2M161.50 148.50h2.2M281.50 148.50h-2.2M161.50 131.50h2.2M281.50 131.50h-2.2M161.50 208.00h1.2M281.50 208.00h-1.2M161.50 191.00h1.2M281.50 191.00h-1.2M161.50 174.00h1.2M281.50 174.00h-1.2M161.50 157.00h1.2M281.50 157.00h-1.2M161.50 140.00h1.2M281.50 140.00h-1.2" stroke="#444" stroke-width="0.68" fill="none"/>
<text x="185.50" y="221.50" font-size="5.3" text-anchor="middle">424</text>
<text x="233.50" y="221.50" font-size="5.3" text-anchor="middle">426</text>
<text x="281.50" y="221.50" font-size="5.3" text-anchor="middle">428</text>
<text x="160.40" y="218.75" font-size="4.9" text-anchor="end">0</text>
<text x="160.40" y="201.75" font-size="4.9" text-anchor="end">0.1</text>
<text x="160.40" y="184.75" font-size="4.9" text-anchor="end">0.2</text>
<text x="160.40" y="167.75" font-size="4.9" text-anchor="end">0.3</text>
<text x="160.40" y="150.75" font-size="4.9" text-anchor="end">0.4</text>
<text x="160.40" y="133.75" font-size="4.9" text-anchor="end">0.5</text>
<text class="n" x="222.0" y="146.60" font-size="7.8" font-weight="bold" fill="#222">(e) L: H9/H10</text>
<polyline points="295.50,178.09 319.30,180.95 343.10,155.15 366.90,160.31 390.70,173.21 414.50,172.35" fill="none" stroke="#000000" stroke-width="0.9" stroke-linejoin="round"/>
<polyline points="295.50,174.36 319.30,183.82 343.10,160.03 366.90,163.75 390.70,179.52 414.50,178.95" fill="none" stroke="#ff0000" stroke-width="0.9" stroke-linejoin="round"/>
<polyline points="295.50,182.39 319.30,184.68 343.10,167.19 366.90,165.19 390.70,190.13 414.50,181.81" fill="none" stroke="#00ee00" stroke-width="0.9" stroke-linejoin="round"/>
<polyline points="295.50,182.39 319.30,184.68 343.10,158.88 366.90,170.92 390.70,187.26 414.50,184.68" fill="none" stroke="#0000ff" stroke-width="0.9" stroke-linejoin="round"/>
<polyline points="295.50,172.35 319.30,176.08 343.10,146.55 366.90,153.72 390.70,169.49 414.50,175.22" fill="none" stroke="#ff00ff" stroke-width="0.9" stroke-linejoin="round"/>
<rect x="295.50" y="130.50" width="119.00" height="86.00" fill="none" stroke="#444" stroke-width="0.75"/>
<path d="M319.30 216.50v-2.2M319.30 130.50v2.2M366.90 216.50v-2.2M366.90 130.50v2.2M414.50 216.50v-2.2M414.50 130.50v2.2M295.50 216.50v-1.2M295.50 130.50v1.2M343.10 216.50v-1.2M343.10 130.50v1.2M390.70 216.50v-1.2M390.70 130.50v1.2M295.50 216.50h2.2M414.50 216.50h-2.2M295.50 187.83h2.2M414.50 187.83h-2.2M295.50 159.17h2.2M414.50 159.17h-2.2M295.50 130.50h2.2M414.50 130.50h-2.2M295.50 202.17h1.2M414.50 202.17h-1.2M295.50 173.50h1.2M414.50 173.50h-1.2M295.50 144.83h1.2M414.50 144.83h-1.2" stroke="#444" stroke-width="0.68" fill="none"/>
<text x="319.30" y="221.50" font-size="5.3" text-anchor="middle">444</text>
<text x="366.90" y="221.50" font-size="5.3" text-anchor="middle">446</text>
<text x="414.50" y="221.50" font-size="5.3" text-anchor="middle">448</text>
<text x="294.40" y="218.75" font-size="4.9" text-anchor="end">0</text>
<text x="294.40" y="190.09" font-size="4.9" text-anchor="end">0.1</text>
<text x="294.40" y="161.42" font-size="4.9" text-anchor="end">0.2</text>
<text x="294.40" y="132.75" font-size="4.9" text-anchor="end">0.3</text>
<text class="n" x="306.8" y="145.80" font-size="7.8" font-weight="bold" fill="#222">(f) H11</text>
<polyline points="427.50,165.12 439.10,180.38 450.70,178.44 462.30,179.74 473.90,185.54 485.50,178.44 497.10,172.64 508.70,175.65 520.30,173.50 531.90,186.19 543.50,188.55" fill="none" stroke="#000000" stroke-width="0.9" stroke-linejoin="round"/>
<polyline points="427.50,163.18 439.10,180.38 450.70,187.04 462.30,168.56 473.90,178.44 485.50,170.71 497.10,161.25 508.70,172.00 520.30,166.19 531.90,185.75 543.50,187.91" fill="none" stroke="#ff0000" stroke-width="0.9" stroke-linejoin="round"/>
<polyline points="427.50,172.86 439.10,187.04 450.70,191.34 462.30,167.91 473.90,184.25 485.50,178.44 497.10,162.75 508.70,175.65 520.30,167.05 531.90,187.91 543.50,188.98" fill="none" stroke="#00ee00" stroke-width="0.9" stroke-linejoin="round"/>
<polyline points="427.50,162.11 439.10,176.94 450.70,174.15 462.30,173.50 473.90,171.35 485.50,155.01 497.10,160.38 508.70,163.61 520.30,163.61 531.90,185.11 543.50,187.04" fill="none" stroke="#0000ff" stroke-width="0.9" stroke-linejoin="round"/>
<polyline points="427.50,165.55 439.10,184.25 450.70,191.34 462.30,176.94 473.90,191.34 485.50,186.19 497.10,177.59 508.70,185.54 520.30,176.51 531.90,195.00 543.50,196.50" fill="none" stroke="#ff00ff" stroke-width="0.9" stroke-linejoin="round"/>
<rect x="427.50" y="130.50" width="116.00" height="86.00" fill="none" stroke="#444" stroke-width="0.75"/>
<path d="M427.50 216.50v-2.2M427.50 130.50v2.2M450.70 216.50v-2.2M450.70 130.50v2.2M473.90 216.50v-2.2M473.90 130.50v2.2M497.10 216.50v-2.2M497.10 130.50v2.2M520.30 216.50v-2.2M520.30 130.50v2.2M543.50 216.50v-2.2M543.50 130.50v2.2M439.10 216.50v-1.2M439.10 130.50v1.2M462.30 216.50v-1.2M462.30 130.50v1.2M485.50 216.50v-1.2M485.50 130.50v1.2M508.70 216.50v-1.2M508.70 130.50v1.2M531.90 216.50v-1.2M531.90 130.50v1.2M427.50 216.50h2.2M543.50 216.50h-2.2M427.50 195.00h2.2M543.50 195.00h-2.2M427.50 173.50h2.2M543.50 173.50h-2.2M427.50 152.00h2.2M543.50 152.00h-2.2M427.50 130.50h2.2M543.50 130.50h-2.2M427.50 205.75h1.2M543.50 205.75h-1.2M427.50 184.25h1.2M543.50 184.25h-1.2M427.50 162.75h1.2M543.50 162.75h-1.2M427.50 141.25h1.2M543.50 141.25h-1.2" stroke="#444" stroke-width="0.68" fill="none"/>
<text x="427.50" y="221.50" font-size="5.3" text-anchor="middle">452</text>
<text x="450.70" y="221.50" font-size="5.3" text-anchor="middle">454</text>
<text x="473.90" y="221.50" font-size="5.3" text-anchor="middle">456</text>
<text x="497.10" y="221.50" font-size="5.3" text-anchor="middle">458</text>
<text x="520.30" y="221.50" font-size="5.3" text-anchor="middle">460</text>
<text x="543.50" y="221.50" font-size="5.3" text-anchor="middle">462</text>
<text x="426.40" y="218.75" font-size="4.9" text-anchor="end">0</text>
<text x="426.40" y="197.25" font-size="4.9" text-anchor="end">0.1</text>
<text x="426.40" y="175.75" font-size="4.9" text-anchor="end">0.2</text>
<text x="426.40" y="154.25" font-size="4.9" text-anchor="end">0.3</text>
<text x="426.40" y="132.75" font-size="4.9" text-anchor="end">0.4</text>
<text class="n" x="434.6" y="145.60" font-size="7.8" font-weight="bold" fill="#222">(g) L: H11/H12</text>
<g clip-path="url(#cI)">
<polyline points="17.86,299.90 18.45,302.04 19.03,303.12 19.62,301.85 20.20,304.96 20.79,301.64 21.37,299.79 21.95,307.67 22.54,304.97 23.12,300.85 23.71,302.17 24.29,305.12 24.88,310.29 25.46,308.52 26.04,307.56 26.63,314.71 27.21,308.54 27.80,308.28 28.38,294.57 28.97,282.11 29.55,288.70 30.13,277.30 30.72,293.68 31.30,296.88 31.89,286.45 32.47,288.58 33.06,286.54 33.64,283.30 34.22,286.60 34.81,294.90 35.39,290.37 35.98,294.21 36.56,294.80 37.15,291.15 37.73,299.94 38.31,295.65 38.90,294.52 39.48,302.58 40.07,301.53 40.65,303.87 41.24,304.76 41.82,309.04 42.40,303.80 42.99,302.13 43.57,313.56 44.16,303.21 44.74,309.62 45.33,311.80 45.91,303.44 46.49,311.45 47.08,316.37 47.66,310.51 48.25,310.50 48.83,313.28 49.42,309.38 50.00,312.61 50.58,308.48 51.17,306.26 51.75,312.81 52.34,306.39 52.92,309.01 53.51,305.72 54.09,309.91 54.67,308.95 55.26,311.48 55.84,311.84 56.43,293.32 57.01,307.39 57.60,311.30 58.18,304.79 58.76,311.27 59.35,304.83 59.93,300.48 60.52,305.76 61.10,309.77 61.69,312.52 62.27,311.70 62.86,311.74 63.44,306.97 64.02,315.74 64.61,313.15 65.19,311.78 65.78,314.33 66.36,314.14 66.95,317.03 67.53,312.67 68.11,314.81 68.70,308.68 69.28,311.76 69.87,312.44 70.45,306.75 71.04,308.08 71.62,296.09 72.20,293.32 72.79,294.93 73.37,277.84 73.96,276.63 74.54,286.80 75.13,286.86 75.71,282.93 76.29,290.65 76.88,290.18 77.46,299.55 78.05,297.77 78.63,296.48 79.22,292.21 79.80,294.25 80.38,298.45 80.97,299.40 81.55,298.39 82.14,299.29 82.72,302.86 83.31,299.63 83.89,302.37 84.47,303.95 85.06,298.84 85.64,295.64 86.23,287.63 86.81,299.20 87.40,303.65 87.98,305.25 88.56,308.99 89.15,303.11 89.73,303.11 90.32,309.34 90.90,305.96 91.49,305.96 92.07,292.43 92.65,305.43 93.24,302.76 93.82,303.65 94.41,289.94 94.99,301.09 95.58,296.71 96.16,299.03 96.74,302.96 97.33,305.10 97.91,308.03 98.50,311.84 99.08,305.64 99.67,314.62 100.25,312.08 100.83,316.18 101.42,315.85 102.00,317.46 102.59,308.31 103.17,315.44 103.76,308.94 104.34,312.16 104.92,311.82 105.51,307.96 106.09,307.39 106.68,303.57 107.26,303.73 107.85,301.20 108.43,302.78 109.01,297.80 109.60,289.36 110.18,300.63 110.77,299.52 111.35,298.34 111.94,300.56 112.52,310.08 113.10,301.82 113.69,304.21 114.27,308.23 114.86,300.33 115.44,307.21 116.03,304.11 116.61,304.95 117.19,298.40 117.78,304.24 118.36,302.87 118.95,307.52 119.53,305.34 120.12,296.29 120.70,304.15 121.29,297.45 121.87,297.74 122.45,292.48 123.04,285.14 123.62,289.59 124.21,255.23 124.79,288.52 125.38,289.23 125.96,288.52 126.54,294.20 127.13,300.57 127.71,299.22 128.30,309.55 128.88,301.98 129.47,305.70 130.05,309.66 130.63,305.50 131.22,305.11 131.80,304.69 132.39,303.30 132.97,306.40 133.56,297.38 134.14,308.95 134.72,303.65 135.31,305.43 135.89,289.41 136.48,292.61 137.06,300.62 137.65,300.09 138.23,300.43 138.81,288.91 139.40,293.50 139.98,284.96 140.57,297.60 141.15,295.99 141.74,297.06 142.32,301.87 142.90,295.99 143.49,291.19 144.07,293.68 144.66,291.90 145.24,302.40 145.83,304.36 146.41,307.07 146.99,308.01 147.58,298.81 148.16,301.67 148.75,302.16 149.33,309.69 149.92,305.00 150.50,304.71 151.08,304.79 151.67,302.56 152.25,307.00 152.84,302.22" fill="none" stroke="#000000" stroke-width="0.5" stroke-linejoin="round"/>
<polyline points="17.86,301.96 18.45,294.05 19.03,302.78 19.62,304.75 20.20,301.70 20.79,299.34 21.37,308.70 21.95,306.57 22.54,301.02 23.12,304.75 23.71,297.72 24.29,308.83 24.88,302.24 25.46,308.57 26.04,311.74 26.63,309.82 27.21,317.48 27.80,310.23 28.38,297.24 28.97,277.30 29.55,287.27 30.13,253.81 30.72,281.04 31.30,295.99 31.89,289.84 32.47,282.63 33.06,291.14 33.64,285.52 34.22,294.95 34.81,284.72 35.39,293.32 35.98,290.31 36.56,290.63 37.15,299.51 37.73,302.96 38.31,298.32 38.90,301.10 39.48,300.91 40.07,302.49 40.65,311.95 41.24,302.47 41.82,311.71 42.40,304.16 42.99,308.30 43.57,309.25 44.16,309.14 44.74,311.77 45.33,312.24 45.91,316.05 46.49,310.26 47.08,307.50 47.66,310.31 48.25,312.27 48.83,313.01 49.42,316.13 50.00,307.62 50.58,314.15 51.17,311.26 51.75,311.02 52.34,308.67 52.92,310.19 53.51,307.82 54.09,310.73 54.67,309.89 55.26,311.48 55.84,311.84 56.43,292.08 57.01,307.74 57.60,311.84 58.18,305.86 58.76,304.89 59.35,304.50 59.93,309.78 60.52,311.12 61.10,307.03 61.69,316.18 62.27,311.29 62.86,314.59 63.44,308.13 64.02,319.49 64.61,313.61 65.19,315.37 65.78,312.18 66.36,314.20 66.95,311.96 67.53,319.49 68.11,310.49 68.70,316.15 69.28,315.19 69.87,310.36 70.45,313.75 71.04,312.60 71.62,299.45 72.20,300.80 72.79,288.34 73.37,277.84 73.96,279.87 74.54,278.27 75.13,287.19 75.71,290.57 76.29,289.96 76.88,295.08 77.46,298.84 78.05,294.39 78.63,299.70 79.22,300.21 79.80,292.08 80.38,299.95 80.97,299.21 81.55,302.39 82.14,299.57 82.72,301.19 83.31,298.54 83.89,304.40 84.47,301.53 85.06,299.20 85.64,295.28 86.23,288.52 86.81,298.31 87.40,304.54 87.98,307.03 88.56,311.48 89.15,305.25 89.73,304.72 90.32,311.84 90.90,308.10 91.49,313.26 92.07,297.42 92.65,309.34 93.24,308.99 93.82,310.77 94.41,295.28 94.99,296.81 95.58,300.99 96.16,296.67 96.74,308.77 97.33,305.82 97.91,311.25 98.50,303.73 99.08,316.26 99.67,312.81 100.25,313.52 100.83,318.20 101.42,318.03 102.00,316.01 102.59,319.49 103.17,316.20 103.76,312.78 104.34,311.30 104.92,311.89 105.51,314.46 106.09,306.55 106.68,302.74 107.26,295.60 107.85,303.22 108.43,303.02 109.01,295.55 109.60,299.50 110.18,300.52 110.77,299.50 111.35,296.75 111.94,307.09 112.52,301.98 113.10,307.63 113.69,300.51 114.27,308.29 114.86,306.03 115.44,299.83 116.03,306.85 116.61,306.57 117.19,301.80 117.78,302.31 118.36,301.38 118.95,308.91 119.53,309.20 120.12,301.89 120.70,301.80 121.29,300.13 121.87,294.83 122.45,293.45 123.04,291.01 123.62,291.72 124.21,264.84 124.79,291.90 125.38,291.72 125.96,288.52 126.54,295.96 127.13,297.03 127.71,310.13 128.30,306.64 128.88,306.61 129.47,307.13 130.05,306.46 130.63,307.23 131.22,309.42 131.80,306.82 132.39,306.94 132.97,308.47 133.56,302.51 134.14,301.85 134.72,301.33 135.31,307.21 135.89,292.43 136.48,294.75 137.06,304.54 137.65,304.18 138.23,293.43 138.81,289.65 139.40,287.77 139.98,283.36 140.57,297.60 141.15,303.11 141.74,287.81 142.32,295.99 142.90,289.59 143.49,281.75 144.07,290.65 144.66,285.85 145.24,302.05 145.83,303.83 146.41,304.03 146.99,303.93 147.58,304.90 148.16,300.80 148.75,307.14 149.33,313.31 149.92,300.15 150.50,303.11 151.08,305.40 151.67,305.78 152.25,302.74 152.84,308.58" fill="none" stroke="#ff0000" stroke-width="0.5" stroke-linejoin="round"/>
</g>
<rect x="19.50" y="238.50" width="131.00" height="89.00" fill="none" stroke="#444" stroke-width="0.75"/>
<path d="M21.95 327.50v-2.2M21.95 238.50v2.2M51.17 327.50v-2.2M51.17 238.50v2.2M80.38 327.50v-2.2M80.38 238.50v2.2M109.60 327.50v-2.2M109.60 238.50v2.2M138.81 327.50v-2.2M138.81 238.50v2.2M36.56 327.50v-1.2M36.56 238.50v1.2M65.78 327.50v-1.2M65.78 238.50v1.2M94.99 327.50v-1.2M94.99 238.50v1.2M124.21 327.50v-1.2M124.21 238.50v1.2M19.50 327.50h2.2M150.50 327.50h-2.2M19.50 309.70h2.2M150.50 309.70h-2.2M19.50 291.90h2.2M150.50 291.90h-2.2M19.50 274.10h2.2M150.50 274.10h-2.2M19.50 256.30h2.2M150.50 256.30h-2.2M19.50 238.50h2.2M150.50 238.50h-2.2M19.50 318.60h1.2M150.50 318.60h-1.2M19.50 300.80h1.2M150.50 300.80h-1.2M19.50 283.00h1.2M150.50 283.00h-1.2M19.50 265.20h1.2M150.50 265.20h-1.2M19.50 247.40h1.2M150.50 247.40h-1.2" stroke="#444" stroke-width="0.68" fill="none"/>
<text x="21.95" y="332.80" font-size="5.3" text-anchor="middle">250</text>
<text x="51.17" y="332.80" font-size="5.3" text-anchor="middle">300</text>
<text x="80.38" y="332.80" font-size="5.3" text-anchor="middle">350</text>
<text x="109.60" y="332.80" font-size="5.3" text-anchor="middle">400</text>
<text x="138.81" y="332.80" font-size="5.3" text-anchor="middle">450</text>
<text x="18.30" y="329.50" font-size="5.0" text-anchor="end">0</text>
<text x="18.30" y="311.70" font-size="5.0" text-anchor="end">0.1</text>
<text x="18.30" y="293.90" font-size="5.0" text-anchor="end">0.2</text>
<text x="18.30" y="276.10" font-size="5.0" text-anchor="end">0.3</text>
<text x="18.30" y="258.30" font-size="5.0" text-anchor="end">0.4</text>
<text x="18.30" y="240.50" font-size="5.0" text-anchor="end">0.5</text>
<line x1="36.1" y1="245.60" x2="42.7" y2="245.60" stroke="#000000" stroke-width="0.65"/>
<text x="46.0" y="247.22" font-size="4.5">FXR</text>
<line x1="36.1" y1="251.30" x2="42.7" y2="251.30" stroke="#ff0000" stroke-width="0.65"/>
<text x="46.0" y="252.92" font-size="4.5">FXR-GW4064</text>
<g clip-path="url(#cJ)">
<polyline points="158.14,300.21 158.68,302.32 159.23,303.40 159.77,302.14 160.32,305.21 160.86,301.93 161.41,300.10 161.96,307.90 162.50,305.23 163.05,301.15 163.59,302.45 164.14,305.37 164.69,310.48 165.23,308.73 165.78,307.78 166.32,314.86 166.87,308.76 167.41,308.49 167.96,294.94 168.51,282.62 169.05,289.13 169.60,277.87 170.14,294.06 170.69,297.23 171.24,286.91 171.78,289.02 172.33,287.00 172.87,283.80 173.42,287.06 173.97,295.27 174.51,290.79 175.06,294.58 175.60,295.16 176.15,291.56 176.69,300.25 177.24,296.00 177.79,294.89 178.33,302.86 178.88,301.82 179.42,304.14 179.97,305.02 180.52,309.25 181.06,304.06 181.61,302.42 182.15,313.72 182.70,303.49 183.24,309.82 183.79,311.98 184.34,303.71 184.88,311.63 185.43,316.49 185.97,310.70 186.52,310.69 187.07,313.44 187.61,309.58 188.16,312.78 188.70,308.69 189.25,306.49 189.80,312.98 190.34,306.62 190.89,309.21 191.43,305.96 191.98,310.10 192.52,309.15 193.07,311.66 193.62,312.01 194.16,293.71 194.71,307.61 195.25,311.48 195.80,305.05 196.35,311.45 196.89,305.08 197.44,300.78 197.98,306.01 198.53,309.97 199.07,312.69 199.62,311.88 200.17,311.91 200.71,307.20 201.26,315.87 201.80,313.31 202.35,311.96 202.90,314.48 203.44,314.29 203.99,317.15 204.53,312.83 205.08,314.95 205.63,308.89 206.17,311.94 206.72,312.61 207.26,306.99 207.81,308.30 208.35,296.44 208.90,293.71 209.45,295.29 209.99,278.40 210.54,277.20 211.08,287.26 211.63,287.32 212.18,283.43 212.72,291.06 213.27,290.60 213.81,299.87 214.36,298.11 214.90,296.83 215.45,292.61 216.00,294.62 216.54,298.77 217.09,299.72 217.63,298.72 218.18,299.61 218.73,303.13 219.27,299.95 219.82,302.65 220.36,304.21 220.91,299.16 221.46,296.00 222.00,288.08 222.55,299.52 223.09,303.92 223.64,305.50 224.18,309.20 224.73,303.39 225.28,303.39 225.82,309.55 226.37,306.20 226.91,306.20 227.46,292.83 228.01,305.68 228.55,303.04 229.10,303.92 229.64,290.36 230.19,301.39 230.73,297.05 231.28,299.35 231.83,303.24 232.37,305.35 232.92,308.25 233.46,312.02 234.01,305.89 234.56,314.76 235.10,312.26 235.65,316.31 236.19,315.99 236.74,317.57 237.29,308.53 237.83,315.57 238.38,309.15 238.92,312.33 239.47,312.00 240.01,308.18 240.56,307.62 241.11,303.84 241.65,303.99 242.20,301.49 242.74,303.06 243.29,298.14 243.84,289.78 244.38,300.94 244.93,299.83 245.47,298.67 246.02,300.86 246.56,310.28 247.11,302.11 247.66,304.47 248.20,308.45 248.75,300.64 249.29,307.44 249.84,304.37 250.39,305.21 250.93,298.73 251.48,304.50 252.02,303.15 252.57,307.74 253.12,305.59 253.66,296.64 254.21,304.42 254.75,297.78 255.30,298.07 255.84,292.87 256.39,285.61 256.94,290.01 257.48,256.04 258.03,288.96 258.57,289.66 259.12,288.96 259.67,294.58 260.21,300.87 260.76,299.53 261.30,309.76 261.85,302.26 262.39,305.94 262.94,309.86 263.49,305.74 264.03,305.36 264.58,304.95 265.12,303.57 265.67,306.64 266.22,297.71 266.76,309.16 267.31,303.92 267.85,305.68 268.40,289.84 268.95,293.00 269.49,300.92 270.04,300.40 270.58,300.74 271.13,289.34 271.67,293.88 272.22,285.44 272.77,297.93 273.31,296.35 273.86,297.40 274.40,302.16 274.95,296.35 275.50,291.60 276.04,294.06 276.59,292.30 277.13,302.68 277.68,304.62 278.22,307.30 278.77,308.23 279.32,299.13 279.86,301.96 280.41,302.44 280.95,309.89 281.50,305.26 282.05,304.96 282.59,305.05 283.14,302.84 283.68,307.23 284.23,302.50" fill="none" stroke="#000000" stroke-width="0.5" stroke-linejoin="round"/>
<polyline points="158.14,301.93 158.68,304.09 159.23,306.89 159.77,300.65 160.32,307.96 160.86,312.14 161.41,294.28 161.96,308.42 162.50,301.66 163.05,310.73 163.59,299.35 164.14,304.54 164.69,307.15 165.23,314.17 165.78,315.58 166.32,310.92 166.87,310.90 167.41,314.83 167.96,303.39 168.51,293.36 169.05,301.10 169.60,275.05 170.14,300.57 170.69,300.57 171.24,290.13 171.78,280.17 172.33,294.85 172.87,286.45 173.42,286.40 173.97,297.59 174.51,292.69 175.06,297.99 175.60,288.84 176.15,293.21 176.69,302.97 177.24,297.42 177.79,302.68 178.33,304.27 178.88,306.54 179.42,292.09 179.97,302.06 180.52,309.35 181.06,310.85 181.61,305.42 182.15,311.32 182.70,307.40 183.24,311.34 183.79,311.57 184.34,311.23 184.88,315.88 185.43,314.42 185.97,319.26 186.52,313.44 187.07,317.87 187.61,312.51 188.16,316.44 188.70,311.30 189.25,310.79 189.80,315.99 190.34,310.77 190.89,311.39 191.43,305.58 191.98,304.39 192.52,310.88 193.07,312.01 193.62,312.36 194.16,294.06 194.71,308.32 195.25,312.36 195.80,317.60 196.35,295.06 196.89,307.34 197.44,315.46 197.98,310.12 198.53,313.32 199.07,312.30 199.62,317.91 200.17,313.81 200.71,311.89 201.26,314.62 201.80,311.80 202.35,316.91 202.90,308.83 203.44,319.58 203.99,314.45 204.53,319.58 205.08,316.92 205.63,309.43 206.17,319.04 206.72,310.91 207.26,312.03 207.81,311.53 208.35,301.79 208.90,286.49 209.45,289.48 209.99,282.97 210.54,281.15 211.08,286.46 211.63,287.55 212.18,285.31 212.72,291.57 213.27,291.20 213.81,303.04 214.36,297.05 214.90,292.82 215.45,296.64 216.00,300.26 216.54,301.25 217.09,294.62 217.63,303.04 218.18,303.08 218.73,289.01 219.27,305.41 219.82,305.03 220.36,306.50 220.91,307.26 221.46,303.04 222.00,295.47 222.55,309.55 223.09,307.26 223.64,308.14 224.18,309.55 224.73,309.20 225.28,306.56 225.82,309.55 226.37,306.20 226.91,306.20 227.46,294.59 228.01,305.68 228.55,307.44 229.10,308.32 229.64,292.48 230.19,299.60 230.73,305.93 231.28,303.68 231.83,302.57 232.37,305.55 232.92,315.22 233.46,303.41 234.01,311.79 234.56,313.14 235.10,317.04 235.65,309.09 236.19,315.49 236.74,316.20 237.29,319.58 237.83,310.94 238.38,306.44 238.92,319.58 239.47,306.41 240.01,310.49 240.56,309.34 241.11,302.37 241.65,310.50 242.20,301.08 242.74,297.18 243.29,302.32 243.84,298.94 244.38,297.88 244.93,301.22 245.47,297.84 246.02,311.66 246.56,302.21 247.11,310.62 247.66,301.18 248.20,307.39 248.75,315.12 249.29,304.94 249.84,310.01 250.39,304.86 250.93,297.86 251.48,309.95 252.02,307.27 252.57,300.83 253.12,307.20 253.66,299.80 254.21,304.35 254.75,304.61 255.30,298.67 255.84,289.83 256.39,292.65 256.94,286.84 257.48,267.66 258.03,297.40 258.57,296.52 259.12,291.42 259.67,299.79 260.21,306.70 260.76,305.75 261.30,305.60 261.85,308.11 262.39,310.98 262.94,312.12 263.49,308.67 264.03,314.26 264.58,310.18 265.12,303.06 265.67,308.73 266.22,303.16 266.76,302.27 267.31,306.56 267.85,307.96 268.40,297.23 268.95,296.00 269.49,311.31 270.04,306.20 270.58,299.10 271.13,299.37 271.67,290.45 272.22,291.77 272.77,303.39 273.31,306.91 273.86,287.72 274.40,301.10 274.95,296.35 275.50,283.50 276.04,294.06 276.59,287.02 277.13,304.09 277.68,304.97 278.22,311.35 278.77,305.74 279.32,300.65 279.86,307.15 280.41,306.46 280.95,304.48 281.50,309.40 282.05,305.35 282.59,292.78 283.14,303.81 283.68,314.96 284.23,306.23" fill="none" stroke="#00ee00" stroke-width="0.5" stroke-linejoin="round"/>
</g>
<rect x="159.50" y="239.50" width="122.00" height="88.00" fill="none" stroke="#444" stroke-width="0.75"/>
<path d="M161.96 327.50v-2.2M161.96 239.50v2.2M189.25 327.50v-2.2M189.25 239.50v2.2M216.54 327.50v-2.2M216.54 239.50v2.2M243.84 327.50v-2.2M243.84 239.50v2.2M271.13 327.50v-2.2M271.13 239.50v2.2M175.60 327.50v-1.2M175.60 239.50v1.2M202.90 327.50v-1.2M202.90 239.50v1.2M230.19 327.50v-1.2M230.19 239.50v1.2M257.48 327.50v-1.2M257.48 239.50v1.2M159.50 327.50h2.2M281.50 327.50h-2.2M159.50 309.90h2.2M281.50 309.90h-2.2M159.50 292.30h2.2M281.50 292.30h-2.2M159.50 274.70h2.2M281.50 274.70h-2.2M159.50 257.10h2.2M281.50 257.10h-2.2M159.50 239.50h2.2M281.50 239.50h-2.2M159.50 318.70h1.2M281.50 318.70h-1.2M159.50 301.10h1.2M281.50 301.10h-1.2M159.50 283.50h1.2M281.50 283.50h-1.2M159.50 265.90h1.2M281.50 265.90h-1.2M159.50 248.30h1.2M281.50 248.30h-1.2" stroke="#444" stroke-width="0.68" fill="none"/>
<text x="161.96" y="332.80" font-size="5.3" text-anchor="middle">250</text>
<text x="189.25" y="332.80" font-size="5.3" text-anchor="middle">300</text>
<text x="216.54" y="332.80" font-size="5.3" text-anchor="middle">350</text>
<text x="243.84" y="332.80" font-size="5.3" text-anchor="middle">400</text>
<text x="271.13" y="332.80" font-size="5.3" text-anchor="middle">450</text>
<text x="158.30" y="329.50" font-size="5.0" text-anchor="end">0</text>
<text x="158.30" y="311.90" font-size="5.0" text-anchor="end">0.1</text>
<text x="158.30" y="294.30" font-size="5.0" text-anchor="end">0.2</text>
<text x="158.30" y="276.70" font-size="5.0" text-anchor="end">0.3</text>
<text x="158.30" y="259.10" font-size="5.0" text-anchor="end">0.4</text>
<text x="158.30" y="241.50" font-size="5.0" text-anchor="end">0.5</text>
<line x1="175.0" y1="247.00" x2="181.8" y2="247.00" stroke="#000000" stroke-width="0.65"/>
<text x="184.5" y="248.62" font-size="4.5">FXR</text>
<line x1="175.0" y1="252.70" x2="181.8" y2="252.70" stroke="#00ee00" stroke-width="0.65"/>
<text x="184.5" y="254.32" font-size="4.5">FXR-<tspan font-style="italic">cilofexor</tspan></text>
<g clip-path="url(#cK)">
<polyline points="291.55,300.52 292.09,302.61 292.63,303.67 293.18,302.43 293.72,305.47 294.26,302.22 294.80,300.42 295.34,308.12 295.88,305.48 296.42,301.45 296.97,302.74 297.51,305.62 298.05,310.67 298.59,308.95 299.13,308.00 299.67,315.00 300.22,308.97 300.76,308.71 301.30,295.31 301.84,283.13 302.38,289.57 302.92,278.43 303.47,294.44 304.01,297.57 304.55,287.37 305.09,289.46 305.63,287.46 306.17,284.30 306.72,287.52 307.26,295.64 307.80,291.21 308.34,294.96 308.88,295.53 309.42,291.97 309.97,300.56 310.51,296.36 311.05,295.26 311.59,303.14 312.13,302.11 312.67,304.40 313.22,305.27 313.76,309.46 314.30,304.33 314.84,302.70 315.38,313.88 315.92,303.76 316.47,310.02 317.01,312.16 317.55,303.98 318.09,311.81 318.63,316.62 319.17,310.89 319.71,310.89 320.26,313.60 320.80,309.79 321.34,312.95 321.88,308.91 322.42,306.73 322.96,313.14 323.51,306.86 324.05,309.42 324.59,306.21 325.13,310.30 325.67,309.36 326.21,311.84 326.76,312.19 327.30,294.09 327.84,307.84 328.38,311.67 328.92,305.30 329.46,311.63 330.01,305.34 330.55,301.08 331.09,306.25 331.63,310.17 332.17,312.86 332.71,312.06 333.26,312.09 333.80,307.44 334.34,316.00 334.88,313.47 335.42,312.13 335.96,314.62 336.51,314.44 337.05,317.27 337.59,313.00 338.13,315.09 338.67,309.11 339.21,312.11 339.76,312.78 340.30,307.22 340.84,308.52 341.38,296.79 341.92,294.09 342.46,295.66 343.00,278.95 343.55,277.78 344.09,287.72 344.63,287.77 345.17,283.93 345.71,291.48 346.25,291.02 346.80,300.18 347.34,298.44 347.88,297.18 348.42,293.00 348.96,295.00 349.50,299.10 350.05,300.03 350.59,299.05 351.13,299.93 351.67,303.41 352.21,300.26 352.75,302.93 353.30,304.48 353.84,299.49 354.38,296.35 354.92,288.52 355.46,299.83 356.00,304.18 356.55,305.75 357.09,309.40 357.63,303.66 358.17,303.66 358.71,309.75 359.25,306.45 359.80,306.45 360.34,293.22 360.88,305.92 361.42,303.31 361.96,304.18 362.50,290.79 363.05,301.68 363.59,297.40 364.13,299.67 364.67,303.51 365.21,305.60 365.75,308.47 366.29,312.19 366.84,306.13 367.38,314.91 367.92,312.43 368.46,316.44 369.00,316.12 369.54,317.69 370.09,308.74 370.63,315.71 371.17,309.36 371.71,312.51 372.25,312.17 372.79,308.40 373.34,307.84 373.88,304.11 374.42,304.26 374.96,301.79 375.50,303.34 376.04,298.47 376.59,290.21 377.13,301.24 377.67,300.14 378.21,299.00 378.75,301.17 379.29,310.47 379.84,302.40 380.38,304.73 380.92,308.67 381.46,300.94 382.00,307.67 382.54,304.64 383.09,305.46 383.63,299.05 384.17,304.76 384.71,303.42 385.25,307.97 385.79,305.84 386.34,296.99 386.88,304.68 387.42,298.12 387.96,298.41 388.50,293.26 389.04,286.09 389.59,290.44 390.13,256.86 390.67,289.39 391.21,290.09 391.75,289.39 392.29,294.95 392.83,301.17 393.38,299.85 393.92,309.96 394.46,302.55 395.00,306.19 395.54,310.06 396.08,305.99 396.63,305.61 397.17,305.20 397.71,303.84 398.25,306.87 398.79,298.05 399.33,309.37 399.88,304.18 400.42,305.92 400.96,290.26 401.50,293.40 402.04,301.23 402.58,300.70 403.13,301.04 403.67,289.78 404.21,294.27 404.75,285.91 405.29,298.27 405.83,296.70 406.38,297.75 406.92,302.44 407.46,296.70 408.00,292.00 408.54,294.44 409.08,292.70 409.63,302.97 410.17,304.88 410.71,307.53 411.25,308.45 411.79,299.46 412.33,302.25 412.88,302.73 413.42,310.09 413.96,305.51 414.50,305.22 415.04,305.30 415.58,303.12 416.12,307.46 416.67,302.78" fill="none" stroke="#000000" stroke-width="0.5" stroke-linejoin="round"/>
<polyline points="291.55,305.21 292.09,297.65 292.63,298.54 293.18,308.21 293.72,303.65 294.26,301.08 294.80,305.58 295.34,300.28 295.88,309.52 296.42,302.23 296.97,308.43 297.51,298.47 298.05,313.60 298.59,316.53 299.13,308.40 299.67,311.22 300.22,295.62 300.76,312.54 301.30,301.40 301.84,295.83 302.38,296.70 302.92,271.99 303.47,300.36 304.01,302.97 304.55,289.05 305.09,282.51 305.63,290.11 306.17,288.49 306.72,283.98 307.26,297.54 307.80,287.39 308.34,292.31 308.88,296.86 309.42,299.19 309.97,297.28 310.51,296.51 311.05,289.50 311.59,301.25 312.13,300.88 312.67,308.72 313.22,304.75 313.76,311.57 314.30,302.71 314.84,308.05 315.38,309.79 315.92,305.24 316.47,309.60 317.01,319.67 317.55,307.76 318.09,316.63 318.63,307.84 319.17,307.64 319.71,318.21 320.26,312.23 320.80,313.77 321.34,311.34 321.88,310.40 322.42,308.02 322.96,314.73 323.51,303.27 324.05,313.50 324.59,306.01 325.13,304.43 325.67,309.53 326.21,310.80 326.76,311.67 327.30,289.92 327.84,307.14 328.38,310.97 328.92,314.49 329.46,302.65 330.01,306.31 330.55,308.39 331.09,310.33 331.63,307.53 332.17,312.42 332.71,310.39 333.26,312.18 333.80,308.59 334.34,319.67 334.88,307.69 335.42,316.93 335.96,315.15 336.51,317.38 337.05,319.34 337.59,313.96 338.13,316.19 338.67,311.64 339.21,318.38 339.76,306.52 340.30,311.20 340.84,308.59 341.38,302.99 341.92,305.40 342.46,296.01 343.00,272.69 343.55,280.65 344.09,283.66 344.63,288.82 345.17,285.51 345.71,292.38 346.25,291.91 346.80,288.70 347.34,286.44 347.88,299.07 348.42,299.70 348.96,299.07 349.50,301.90 350.05,296.14 350.59,305.50 351.13,300.20 351.67,298.17 352.21,301.17 352.75,299.99 353.30,306.07 353.84,302.44 354.38,301.57 354.92,292.00 355.46,305.05 356.00,305.40 356.55,308.88 357.09,311.84 357.63,305.75 358.17,300.70 358.71,311.49 359.25,310.97 359.80,314.45 360.34,298.96 360.88,309.75 361.42,309.40 361.96,310.62 362.50,293.74 363.05,306.04 363.59,300.35 364.13,302.67 364.67,296.16 365.21,304.54 365.75,306.83 366.29,311.11 366.84,310.52 367.38,311.22 367.92,319.67 368.46,307.95 369.00,311.42 369.54,315.74 370.09,313.34 370.63,319.67 371.17,311.77 371.71,310.26 372.25,311.63 372.79,305.59 373.34,311.16 373.88,305.06 374.42,309.48 374.96,300.20 375.50,300.05 376.04,300.99 376.59,298.24 377.13,291.38 377.67,304.88 378.21,303.77 378.75,306.74 379.29,300.55 379.84,299.97 380.38,305.82 380.92,307.73 381.46,306.64 382.00,298.84 382.54,309.86 383.09,298.50 383.63,300.01 384.17,305.11 384.71,302.77 385.25,304.39 385.79,300.99 386.34,308.61 386.88,297.38 387.42,303.21 387.96,300.56 388.50,291.55 389.04,289.05 389.59,293.92 390.13,267.64 390.67,294.44 391.21,292.53 391.75,291.83 392.29,296.96 392.83,299.63 393.38,307.99 393.92,307.03 394.46,307.13 395.00,312.22 395.54,310.72 396.08,307.04 396.63,309.15 397.17,310.21 397.71,303.77 398.25,306.46 398.79,300.64 399.33,305.91 399.88,306.79 400.42,308.19 400.96,292.53 401.50,299.83 402.04,309.75 402.58,308.19 403.13,297.20 403.67,291.63 404.21,296.31 404.75,283.48 405.29,295.48 405.83,293.22 406.38,292.70 406.92,290.96 407.46,277.74 408.00,282.09 408.54,284.70 409.08,284.70 409.63,302.10 410.17,303.66 410.71,302.20 411.25,308.90 411.79,299.66 412.33,304.40 412.88,306.96 413.42,307.52 413.96,307.52 414.50,302.42 415.04,304.62 415.58,305.88 416.12,307.44 416.67,315.84" fill="none" stroke="#0000ff" stroke-width="0.5" stroke-linejoin="round"/>
</g>
<rect x="293.50" y="240.50" width="121.00" height="87.00" fill="none" stroke="#444" stroke-width="0.75"/>
<path d="M295.34 327.50v-2.2M295.34 240.50v2.2M322.42 327.50v-2.2M322.42 240.50v2.2M349.50 327.50v-2.2M349.50 240.50v2.2M376.59 327.50v-2.2M376.59 240.50v2.2M403.67 327.50v-2.2M403.67 240.50v2.2M308.88 327.50v-1.2M308.88 240.50v1.2M335.96 327.50v-1.2M335.96 240.50v1.2M363.05 327.50v-1.2M363.05 240.50v1.2M390.13 327.50v-1.2M390.13 240.50v1.2M293.50 327.50h2.2M414.50 327.50h-2.2M293.50 310.10h2.2M414.50 310.10h-2.2M293.50 292.70h2.2M414.50 292.70h-2.2M293.50 275.30h2.2M414.50 275.30h-2.2M293.50 257.90h2.2M414.50 257.90h-2.2M293.50 240.50h2.2M414.50 240.50h-2.2M293.50 318.80h1.2M414.50 318.80h-1.2M293.50 301.40h1.2M414.50 301.40h-1.2M293.50 284.00h1.2M414.50 284.00h-1.2M293.50 266.60h1.2M414.50 266.60h-1.2M293.50 249.20h1.2M414.50 249.20h-1.2" stroke="#444" stroke-width="0.68" fill="none"/>
<text x="295.34" y="332.80" font-size="5.3" text-anchor="middle">250</text>
<text x="322.42" y="332.80" font-size="5.3" text-anchor="middle">300</text>
<text x="349.50" y="332.80" font-size="5.3" text-anchor="middle">350</text>
<text x="376.59" y="332.80" font-size="5.3" text-anchor="middle">400</text>
<text x="403.67" y="332.80" font-size="5.3" text-anchor="middle">450</text>
<text x="292.30" y="329.50" font-size="5.0" text-anchor="end">0</text>
<text x="292.30" y="312.10" font-size="5.0" text-anchor="end">0.1</text>
<text x="292.30" y="294.70" font-size="5.0" text-anchor="end">0.2</text>
<text x="292.30" y="277.30" font-size="5.0" text-anchor="end">0.3</text>
<text x="292.30" y="259.90" font-size="5.0" text-anchor="end">0.4</text>
<text x="292.30" y="242.50" font-size="5.0" text-anchor="end">0.5</text>
<line x1="308.2" y1="248.20" x2="314.5" y2="248.20" stroke="#000000" stroke-width="0.65"/>
<text x="316.8" y="249.82" font-size="4.5">FXR</text>
<line x1="308.2" y1="253.60" x2="314.5" y2="253.60" stroke="#0000ff" stroke-width="0.65"/>
<text x="316.8" y="255.22" font-size="4.5">FXR-LY2562175</text>
<g clip-path="url(#cL)">
<polyline points="424.48,300.83 425.01,302.89 425.54,303.94 426.07,302.72 426.61,305.72 427.14,302.51 427.67,300.73 428.20,308.34 428.73,305.73 429.26,301.74 429.80,303.02 430.33,305.87 430.86,310.87 431.39,309.16 431.92,308.23 432.46,315.15 432.99,309.18 433.52,308.92 434.05,295.68 434.58,283.64 435.11,290.00 435.65,279.00 436.18,294.82 436.71,297.92 437.24,287.83 437.77,289.89 438.30,287.92 438.84,284.79 439.37,287.97 439.90,296.00 440.43,291.62 440.96,295.33 441.49,295.90 442.03,292.37 442.56,300.87 443.09,296.72 443.62,295.63 444.15,303.42 444.68,302.41 445.22,304.67 445.75,305.53 446.28,309.67 446.81,304.60 447.34,302.99 447.88,314.03 448.41,304.03 448.94,310.22 449.47,312.33 450.00,304.25 450.53,311.99 451.07,316.74 451.60,311.08 452.13,311.08 452.66,313.76 453.19,309.99 453.72,313.11 454.26,309.12 454.79,306.97 455.32,313.31 455.85,307.10 456.38,309.63 456.91,306.45 457.45,310.50 457.98,309.57 458.51,312.02 459.04,312.36 459.57,294.48 460.11,308.06 460.64,311.85 461.17,305.56 461.70,311.82 462.23,305.59 462.76,301.39 463.30,306.50 463.83,310.37 464.36,313.02 464.89,312.24 465.42,312.27 465.95,307.67 466.49,316.14 467.02,313.63 467.55,312.31 468.08,314.77 468.61,314.59 469.14,317.38 469.68,313.17 470.21,315.24 470.74,309.32 471.27,312.29 471.80,312.95 472.33,307.45 472.87,308.73 473.40,297.14 473.93,294.48 474.46,296.02 474.99,279.51 475.53,278.35 476.06,288.17 476.59,288.23 477.12,284.43 477.65,291.89 478.18,291.44 478.72,300.50 479.25,298.78 479.78,297.53 480.31,293.40 480.84,295.37 481.37,299.42 481.91,300.35 482.44,299.38 482.97,300.24 483.50,303.69 484.03,300.57 484.56,303.21 485.10,304.74 485.63,299.81 486.16,296.71 486.69,288.97 487.22,300.15 487.75,304.45 488.29,306.00 488.82,309.61 489.35,303.94 489.88,303.94 490.41,309.96 490.95,306.69 491.48,306.69 492.01,293.62 492.54,306.17 493.07,303.59 493.60,304.45 494.14,291.21 494.67,301.98 495.20,297.75 495.73,299.99 496.26,303.79 496.79,305.85 497.33,308.69 497.86,312.37 498.39,306.38 498.92,315.05 499.45,312.60 499.98,316.57 500.52,316.25 501.05,317.80 501.58,308.96 502.11,315.84 502.64,309.57 503.17,312.68 503.71,312.35 504.24,308.62 504.77,308.07 505.30,304.38 505.83,304.53 506.37,302.08 506.90,303.62 507.43,298.81 507.96,290.64 508.49,301.54 509.02,300.46 509.56,299.33 510.09,301.47 510.62,310.67 511.15,302.69 511.68,304.99 512.21,308.88 512.75,301.25 513.28,307.90 513.81,304.90 514.34,305.71 514.87,299.38 515.40,305.02 515.94,303.70 516.47,308.19 517.00,306.09 517.53,297.34 518.06,304.94 518.59,298.46 519.13,298.74 519.66,293.66 520.19,286.56 520.72,290.86 521.25,257.67 521.79,289.83 522.32,290.52 522.85,289.83 523.38,295.32 523.91,301.48 524.44,300.17 524.98,310.16 525.51,302.84 526.04,306.43 526.57,310.26 527.10,306.24 527.63,305.86 528.17,305.46 528.70,304.11 529.23,307.11 529.76,298.39 530.29,309.57 530.82,304.45 531.36,306.17 531.89,290.69 532.42,293.79 532.95,301.53 533.48,301.01 534.01,301.35 534.55,290.21 535.08,294.65 535.61,286.39 536.14,298.60 536.67,297.06 537.21,298.09 537.74,302.73 538.27,297.06 538.80,292.41 539.33,294.82 539.86,293.10 540.40,303.25 540.93,305.14 541.46,307.76 541.99,308.67 542.52,299.78 543.05,302.54 543.59,303.01 544.12,310.29 544.65,305.76 545.18,305.48 545.71,305.56 546.24,303.40 546.78,307.69 547.31,303.07" fill="none" stroke="#000000" stroke-width="0.5" stroke-linejoin="round"/>
<polyline points="424.48,299.38 425.01,295.39 425.54,305.29 426.07,297.40 426.61,300.07 427.14,300.57 427.67,308.08 428.20,297.30 428.73,306.02 429.26,304.03 429.80,302.90 430.33,302.79 430.86,307.79 431.39,310.02 431.92,305.45 432.46,313.24 432.99,310.85 433.52,311.68 434.05,301.70 434.58,295.68 435.11,293.79 435.65,272.12 436.18,296.20 436.71,299.81 437.24,292.19 437.77,279.64 438.30,289.90 438.84,288.78 439.37,287.51 439.90,286.28 440.43,294.23 440.96,293.74 441.49,290.47 442.03,293.93 442.56,294.67 443.09,300.43 443.62,288.98 444.15,296.60 444.68,305.26 445.22,299.79 445.75,301.30 446.28,301.66 446.81,310.99 447.34,312.08 447.88,307.68 448.41,308.77 448.94,307.65 449.47,307.46 450.00,311.32 450.53,312.59 451.07,310.01 451.60,311.68 452.13,310.68 452.66,313.40 453.19,302.69 453.72,312.30 454.26,313.82 454.79,311.26 455.32,308.55 455.85,311.95 456.38,307.12 456.91,307.77 457.45,302.44 457.98,310.99 458.51,311.68 459.04,312.19 459.57,292.41 460.11,307.72 460.64,311.50 461.17,304.03 461.70,307.61 462.23,302.08 462.76,308.36 463.30,309.79 463.83,315.74 464.36,311.43 464.89,306.86 465.42,308.05 465.95,312.83 466.49,299.14 467.02,314.65 467.55,313.43 468.08,314.54 468.61,309.59 469.14,313.81 469.68,314.88 470.21,313.75 470.74,310.39 471.27,311.59 471.80,314.02 472.33,302.47 472.87,307.51 473.40,300.12 473.93,299.12 474.46,289.14 474.99,272.98 475.53,278.52 476.06,285.75 476.59,284.11 477.12,291.13 477.65,282.26 478.18,299.40 478.72,289.14 479.25,292.24 479.78,297.71 480.31,293.24 480.84,294.64 481.37,295.95 481.91,294.73 482.44,302.10 482.97,297.84 483.50,301.97 484.03,297.86 484.56,302.89 485.10,302.06 485.63,298.78 486.16,295.85 486.69,288.46 487.22,298.43 487.75,304.45 488.29,306.00 488.82,307.72 489.35,300.15 489.88,299.29 490.41,305.66 490.95,304.45 491.48,302.73 492.01,285.02 492.54,297.06 493.07,290.69 493.60,301.01 494.14,288.97 494.67,291.46 495.20,299.97 495.73,301.95 496.26,298.24 496.79,306.40 497.33,303.45 497.86,312.69 498.39,308.98 498.92,307.64 499.45,316.71 499.98,312.95 500.52,313.58 501.05,318.13 501.58,308.26 502.11,313.40 502.64,316.61 503.17,308.73 503.71,311.64 504.24,308.62 504.77,304.91 505.30,306.46 505.83,298.81 506.37,304.17 506.90,295.32 507.43,298.82 507.96,293.12 508.49,299.25 509.02,298.17 509.56,303.54 510.09,301.07 510.62,301.73 511.15,298.17 511.68,301.57 512.21,304.67 512.75,305.80 513.28,304.59 513.81,304.87 514.34,290.53 514.87,300.01 515.40,305.68 515.94,304.04 516.47,299.38 517.00,304.03 517.53,303.07 518.06,297.07 518.59,301.81 519.13,297.71 519.66,292.53 520.19,284.33 520.72,279.86 521.25,251.65 521.79,287.77 522.32,287.08 522.85,286.56 523.38,296.06 523.91,300.70 524.44,308.35 524.98,304.05 525.51,310.78 526.04,304.31 526.57,307.05 527.10,307.68 527.63,296.57 528.17,307.15 528.70,303.81 529.23,304.07 529.76,303.31 530.29,300.00 530.82,301.01 531.36,303.25 531.89,285.53 532.42,289.83 532.95,299.29 533.48,302.73 534.01,301.31 534.55,295.75 535.08,282.87 535.61,286.74 536.14,301.70 536.67,307.38 537.21,295.85 537.74,307.38 538.27,303.25 538.80,296.37 539.33,302.73 539.86,295.51 540.40,310.30 540.93,311.50 541.46,302.90 541.99,311.22 542.52,300.67 543.05,302.86 543.59,305.94 544.12,305.98 544.65,303.92 545.18,303.18 545.71,307.32 546.24,297.70 546.78,297.75 547.31,310.02" fill="none" stroke="#ff00ff" stroke-width="0.5" stroke-linejoin="round"/>
</g>
<rect x="426.50" y="241.50" width="119.00" height="86.00" fill="none" stroke="#444" stroke-width="0.75"/>
<path d="M428.20 327.50v-2.2M428.20 241.50v2.2M454.79 327.50v-2.2M454.79 241.50v2.2M481.37 327.50v-2.2M481.37 241.50v2.2M507.96 327.50v-2.2M507.96 241.50v2.2M534.55 327.50v-2.2M534.55 241.50v2.2M441.49 327.50v-1.2M441.49 241.50v1.2M468.08 327.50v-1.2M468.08 241.50v1.2M494.67 327.50v-1.2M494.67 241.50v1.2M521.25 327.50v-1.2M521.25 241.50v1.2M426.50 327.50h2.2M545.50 327.50h-2.2M426.50 310.30h2.2M545.50 310.30h-2.2M426.50 293.10h2.2M545.50 293.10h-2.2M426.50 275.90h2.2M545.50 275.90h-2.2M426.50 258.70h2.2M545.50 258.70h-2.2M426.50 241.50h2.2M545.50 241.50h-2.2M426.50 318.90h1.2M545.50 318.90h-1.2M426.50 301.70h1.2M545.50 301.70h-1.2M426.50 284.50h1.2M545.50 284.50h-1.2M426.50 267.30h1.2M545.50 267.30h-1.2M426.50 250.10h1.2M545.50 250.10h-1.2" stroke="#444" stroke-width="0.68" fill="none"/>
<text x="428.20" y="332.80" font-size="5.3" text-anchor="middle">250</text>
<text x="454.79" y="332.80" font-size="5.3" text-anchor="middle">300</text>
<text x="481.37" y="332.80" font-size="5.3" text-anchor="middle">350</text>
<text x="507.96" y="332.80" font-size="5.3" text-anchor="middle">400</text>
<text x="534.55" y="332.80" font-size="5.3" text-anchor="middle">450</text>
<text x="425.30" y="329.50" font-size="5.0" text-anchor="end">0</text>
<text x="425.30" y="312.30" font-size="5.0" text-anchor="end">0.1</text>
<text x="425.30" y="295.10" font-size="5.0" text-anchor="end">0.2</text>
<text x="425.30" y="277.90" font-size="5.0" text-anchor="end">0.3</text>
<text x="425.30" y="260.70" font-size="5.0" text-anchor="end">0.4</text>
<text x="425.30" y="243.50" font-size="5.0" text-anchor="end">0.5</text>
<line x1="440.6" y1="248.80" x2="447.5" y2="248.80" stroke="#000000" stroke-width="0.65"/>
<text x="450.6" y="250.42" font-size="4.5">FXR</text>
<line x1="440.6" y1="254.30" x2="447.5" y2="254.30" stroke="#ff00ff" stroke-width="0.65"/>
<text x="450.6" y="255.92" font-size="4.5">FXR-PX20606</text>
<text transform="translate(9.2 282) rotate(-90)" font-size="5.6" text-anchor="middle">RMSF(nm)</text>
<text transform="translate(9.2 174) rotate(-90)" font-size="5.6" text-anchor="middle">RMSF(nm)</text>
<text x="84.15" y="116.5" font-size="5.25" text-anchor="middle">Residue Number</text>
<text x="220.6" y="116.0" font-size="5.25" text-anchor="middle">Residue Number</text>
<text x="355.0" y="117.7" font-size="4.9" text-anchor="middle">Residue Number</text>
<text x="483.2" y="117.5" font-size="4.85" text-anchor="middle">Residue Number</text>
<text x="84.35" y="227.0" font-size="5.3" text-anchor="middle">Residue Number</text>
<text x="221.1" y="226.6" font-size="4.85" text-anchor="middle">Residue Number</text>
<text x="354.9" y="226.4" font-size="4.9" text-anchor="middle">Residue Number</text>
<text x="485.7" y="225.9" font-size="4.8" text-anchor="middle">Residue Number</text>
<text x="84.5" y="338.6" font-size="5.3" text-anchor="middle">Residue Number</text>
<text x="220.55" y="338.3" font-size="5.0" text-anchor="middle">Residue Number</text>
<text x="353.7" y="338.6" font-size="4.9" text-anchor="middle">Residue Number</text>
<text x="485.5" y="338.6" font-size="4.85" text-anchor="middle">Residue Number</text>
<text class="n" x="9.5" y="12.4" font-size="14.5">A</text>
<text class="n" x="149.8" y="12.4" font-size="14.5">B</text>
<text class="n" x="285.0" y="13.9" font-size="14.5">C</text>
<text class="n" x="416.9" y="13.8" font-size="14.5">D</text>
<text class="n" x="8.2" y="126.9" font-size="14.5">E</text>
<text class="n" x="152.6" y="127.4" font-size="15.5">F</text>
<text class="n" x="284.7" y="126.9" font-size="14.5">G</text>
<text class="n" x="416.7" y="126.4" font-size="14.5">H</text>
<text class="n" x="7.9" y="234.2" font-size="14.5">I</text>
<text class="n" x="151.8" y="234.7" font-size="14.5">J</text>
<text class="n" x="286.2" y="235.9" font-size="14.5">K</text>
<text class="n" x="417.4" y="236.1" font-size="14.5">L</text>
</svg>
</body></html>
